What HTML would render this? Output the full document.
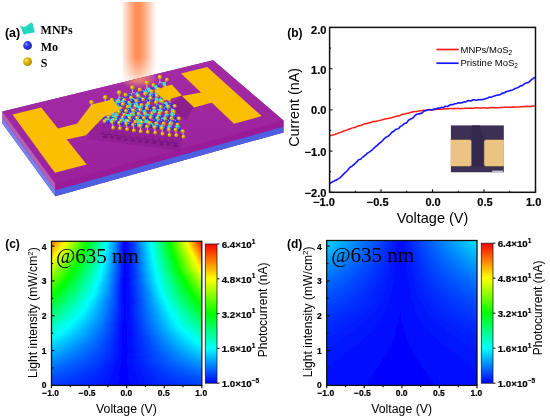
<!DOCTYPE html>
<html><head><meta charset="utf-8"><title>Figure</title>
<style>html,body{margin:0;padding:0;background:#fff;} body{width:550px;height:419px;overflow:hidden;} svg{display:block;}</style>
</head><body>
<svg width="550" height="419" viewBox="0 0 550 419" font-family="'Liberation Sans', Arial, sans-serif" fill="#000">
<defs><filter id="vblur" x="-2%" y="-5%" width="104%" height="110%"><feGaussianBlur stdDeviation="0.3 1.3"/></filter><radialGradient id="mo" cx=".35" cy=".35" r=".7"><stop offset="0" stop-color="#a0a8ff"/><stop offset=".3" stop-color="#3a40f0"/><stop offset="1" stop-color="#1e22b8"/></radialGradient><radialGradient id="su" cx=".35" cy=".35" r=".7"><stop offset="0" stop-color="#fff4a8"/><stop offset=".3" stop-color="#e8bc08"/><stop offset="1" stop-color="#b08800"/></radialGradient><linearGradient id="topf" x1="0" y1="0" x2="0.3" y2="1"><stop offset="0" stop-color="#a52fa7"/><stop offset="1" stop-color="#9a219b"/></linearGradient><linearGradient id="beamh" x1="0" x2="1"><stop offset="0" stop-color="#ffa880" stop-opacity="0"/><stop offset=".07" stop-color="#ffa47c" stop-opacity=".3"/><stop offset=".22" stop-color="#ff9460" stop-opacity=".62"/><stop offset=".38" stop-color="#ff8448" stop-opacity=".88"/><stop offset=".5" stop-color="#ff8244" stop-opacity=".92"/><stop offset=".66" stop-color="#ff8c56" stop-opacity=".74"/><stop offset=".82" stop-color="#ff9c70" stop-opacity=".45"/><stop offset=".93" stop-color="#ffb090" stop-opacity=".2"/><stop offset="1" stop-color="#ffb898" stop-opacity="0"/></linearGradient><linearGradient id="beamv" x1="0" y1="0" x2="0" y2="1"><stop offset="0" stop-color="#fff" stop-opacity="1"/><stop offset=".66" stop-color="#fff" stop-opacity="1"/><stop offset=".85" stop-color="#fff" stop-opacity=".55"/><stop offset="1" stop-color="#fff" stop-opacity="0"/></linearGradient><mask id="beamm"><rect x="118" y="2" width="44" height="84" fill="url(#beamv)"/></mask><radialGradient id="glow" cx=".5" cy=".5" r=".5"><stop offset="0" stop-color="#ff9a60" stop-opacity=".75"/><stop offset=".6" stop-color="#ff9a70" stop-opacity=".3"/><stop offset="1" stop-color="#ffa080" stop-opacity="0"/></radialGradient><clipPath id="slabtop"><polygon points="2.4,111.6 213.1,60.2 283.5,120.6 55.3,183.5"/></clipPath><clipPath id="insetc"><rect x="450.7" y="125.2" width="53.2" height="47.3"/></clipPath><clipPath id="clip1"><rect x="51.5" y="241.3" width="150.3" height="144.1"/></clipPath><linearGradient id="g2"><stop offset="0" stop-color="#ff5200"/><stop offset="0.1" stop-color="#fffc00"/><stop offset="0.13" stop-color="#ceff00"/><stop offset="0.24" stop-color="#00ff03"/><stop offset="0.31" stop-color="#00ff80"/><stop offset="0.37" stop-color="#00fffc"/><stop offset="0.38" stop-color="#00f8ff"/><stop offset="0.41" stop-color="#00aaff"/><stop offset="0.48" stop-color="#000eff"/><stop offset="0.48" stop-color="#0000ff"/><stop offset="0.51" stop-color="#000cff"/><stop offset="0.54" stop-color="#003aff"/><stop offset="0.59" stop-color="#008dff"/><stop offset="0.65" stop-color="#00fcff"/><stop offset="0.7" stop-color="#00ff9e"/><stop offset="0.78" stop-color="#00ff00"/><stop offset="0.89" stop-color="#f7ff00"/><stop offset="0.89" stop-color="#fffb00"/><stop offset="0.99" stop-color="#ff0100"/><stop offset="1" stop-color="#ff0000"/></linearGradient><linearGradient id="g3"><stop offset="0" stop-color="#ff6200"/><stop offset="0.1" stop-color="#fdff00"/><stop offset="0.24" stop-color="#00ff02"/><stop offset="0.3" stop-color="#00ff7d"/><stop offset="0.37" stop-color="#00feff"/><stop offset="0.42" stop-color="#0091ff"/><stop offset="0.47" stop-color="#0018ff"/><stop offset="0.48" stop-color="#0005ff"/><stop offset="0.48" stop-color="#0000ff"/><stop offset="0.51" stop-color="#000cff"/><stop offset="0.54" stop-color="#0039ff"/><stop offset="0.59" stop-color="#008bff"/><stop offset="0.65" stop-color="#00f9ff"/><stop offset="0.66" stop-color="#00fffc"/><stop offset="0.68" stop-color="#00ffd5"/><stop offset="0.78" stop-color="#03ff00"/><stop offset="0.9" stop-color="#fffc00"/><stop offset="1" stop-color="#ff0600"/></linearGradient><linearGradient id="g4"><stop offset="0" stop-color="#ff7200"/><stop offset="0.09" stop-color="#fffd00"/><stop offset="0.24" stop-color="#00ff02"/><stop offset="0.3" stop-color="#00ff84"/><stop offset="0.36" stop-color="#00fffa"/><stop offset="0.37" stop-color="#00faff"/><stop offset="0.41" stop-color="#00afff"/><stop offset="0.48" stop-color="#000dff"/><stop offset="0.48" stop-color="#0000ff"/><stop offset="0.49" stop-color="#0003ff"/><stop offset="0.51" stop-color="#0011ff"/><stop offset="0.55" stop-color="#0040ff"/><stop offset="0.59" stop-color="#0091ff"/><stop offset="0.66" stop-color="#00feff"/><stop offset="0.71" stop-color="#00ff95"/><stop offset="0.78" stop-color="#00ff05"/><stop offset="0.79" stop-color="#05ff00"/><stop offset="0.8" stop-color="#1bff00"/><stop offset="0.9" stop-color="#fffd00"/><stop offset="1" stop-color="#ff1600"/></linearGradient><linearGradient id="g5"><stop offset="0" stop-color="#ff8200"/><stop offset="0.07" stop-color="#fffa00"/><stop offset="0.08" stop-color="#fbff00"/><stop offset="0.23" stop-color="#00ff02"/><stop offset="0.3" stop-color="#00ff81"/><stop offset="0.36" stop-color="#00fffe"/><stop offset="0.42" stop-color="#0097ff"/><stop offset="0.47" stop-color="#0018ff"/><stop offset="0.48" stop-color="#0004ff"/><stop offset="0.48" stop-color="#0000ff"/><stop offset="0.49" stop-color="#0003ff"/><stop offset="0.51" stop-color="#0011ff"/><stop offset="0.55" stop-color="#003fff"/><stop offset="0.59" stop-color="#008fff"/><stop offset="0.66" stop-color="#00faff"/><stop offset="0.66" stop-color="#00fffa"/><stop offset="0.7" stop-color="#00ffb8"/><stop offset="0.79" stop-color="#00ff03"/><stop offset="0.82" stop-color="#47ff00"/><stop offset="0.91" stop-color="#fffe00"/><stop offset="1" stop-color="#ff2700"/></linearGradient><linearGradient id="g6"><stop offset="0" stop-color="#ff9200"/><stop offset="0.07" stop-color="#feff00"/><stop offset="0.23" stop-color="#00ff02"/><stop offset="0.29" stop-color="#00ff7e"/><stop offset="0.36" stop-color="#00fff9"/><stop offset="0.36" stop-color="#00fbff"/><stop offset="0.42" stop-color="#0089ff"/><stop offset="0.47" stop-color="#0017ff"/><stop offset="0.48" stop-color="#0004ff"/><stop offset="0.48" stop-color="#0000ff"/><stop offset="0.49" stop-color="#0003ff"/><stop offset="0.51" stop-color="#0010ff"/><stop offset="0.55" stop-color="#003eff"/><stop offset="0.59" stop-color="#008dff"/><stop offset="0.66" stop-color="#00f6ff"/><stop offset="0.66" stop-color="#00ffff"/><stop offset="0.69" stop-color="#00ffd0"/><stop offset="0.79" stop-color="#00ff01"/><stop offset="0.91" stop-color="#feff00"/><stop offset="1" stop-color="#ff3700"/></linearGradient><linearGradient id="g7"><stop offset="0" stop-color="#ffa200"/><stop offset="0.06" stop-color="#fffe00"/><stop offset="0.22" stop-color="#00ff03"/><stop offset="0.29" stop-color="#00ff85"/><stop offset="0.36" stop-color="#00fffe"/><stop offset="0.42" stop-color="#0091ff"/><stop offset="0.47" stop-color="#0017ff"/><stop offset="0.48" stop-color="#0004ff"/><stop offset="0.48" stop-color="#0000ff"/><stop offset="0.49" stop-color="#0003ff"/><stop offset="0.51" stop-color="#0010ff"/><stop offset="0.55" stop-color="#003dff"/><stop offset="0.6" stop-color="#0093ff"/><stop offset="0.66" stop-color="#00fbff"/><stop offset="0.67" stop-color="#00fffa"/><stop offset="0.7" stop-color="#00ffaf"/><stop offset="0.8" stop-color="#01ff00"/><stop offset="0.92" stop-color="#fcff00"/><stop offset="0.92" stop-color="#fff700"/><stop offset="1" stop-color="#ff4700"/></linearGradient><linearGradient id="g8"><stop offset="0" stop-color="#ffb200"/><stop offset="0.05" stop-color="#fffd00"/><stop offset="0.06" stop-color="#f9ff00"/><stop offset="0.21" stop-color="#04ff00"/><stop offset="0.21" stop-color="#00ff04"/><stop offset="0.29" stop-color="#00ff83"/><stop offset="0.35" stop-color="#00fff9"/><stop offset="0.36" stop-color="#00fcff"/><stop offset="0.42" stop-color="#008fff"/><stop offset="0.47" stop-color="#0016ff"/><stop offset="0.48" stop-color="#0004ff"/><stop offset="0.48" stop-color="#0000ff"/><stop offset="0.49" stop-color="#0003ff"/><stop offset="0.51" stop-color="#0010ff"/><stop offset="0.55" stop-color="#003cff"/><stop offset="0.6" stop-color="#0091ff"/><stop offset="0.66" stop-color="#00f7ff"/><stop offset="0.67" stop-color="#00fffe"/><stop offset="0.69" stop-color="#00ffda"/><stop offset="0.8" stop-color="#02ff00"/><stop offset="0.92" stop-color="#faff00"/><stop offset="0.93" stop-color="#fffa00"/><stop offset="1" stop-color="#ff5700"/></linearGradient><linearGradient id="g9"><stop offset="0" stop-color="#ffc100"/><stop offset="0.04" stop-color="#fffc00"/><stop offset="0.04" stop-color="#faff00"/><stop offset="0.21" stop-color="#03ff00"/><stop offset="0.21" stop-color="#00ff05"/><stop offset="0.29" stop-color="#00ff8a"/><stop offset="0.35" stop-color="#00fffe"/><stop offset="0.41" stop-color="#0096ff"/><stop offset="0.48" stop-color="#000cff"/><stop offset="0.48" stop-color="#0000ff"/><stop offset="0.51" stop-color="#0010ff"/><stop offset="0.55" stop-color="#003bff"/><stop offset="0.6" stop-color="#008eff"/><stop offset="0.67" stop-color="#00fcff"/><stop offset="0.7" stop-color="#00ffba"/><stop offset="0.8" stop-color="#00ff07"/><stop offset="0.81" stop-color="#03ff00"/><stop offset="0.93" stop-color="#fffd00"/><stop offset="1" stop-color="#ff6800"/></linearGradient><linearGradient id="g10"><stop offset="0" stop-color="#ffd100"/><stop offset="0.03" stop-color="#fffc00"/><stop offset="0.04" stop-color="#faff00"/><stop offset="0.2" stop-color="#01ff00"/><stop offset="0.21" stop-color="#00ff07"/><stop offset="0.29" stop-color="#00ff89"/><stop offset="0.35" stop-color="#00fff9"/><stop offset="0.35" stop-color="#00fcff"/><stop offset="0.42" stop-color="#008aff"/><stop offset="0.47" stop-color="#0016ff"/><stop offset="0.48" stop-color="#0004ff"/><stop offset="0.48" stop-color="#0000ff"/><stop offset="0.51" stop-color="#000fff"/><stop offset="0.55" stop-color="#003aff"/><stop offset="0.6" stop-color="#008cff"/><stop offset="0.67" stop-color="#00f8ff"/><stop offset="0.67" stop-color="#00fffe"/><stop offset="0.69" stop-color="#00ffe3"/><stop offset="0.81" stop-color="#00ff06"/><stop offset="0.81" stop-color="#04ff00"/><stop offset="0.94" stop-color="#feff00"/><stop offset="1" stop-color="#ff7800"/></linearGradient><linearGradient id="g11"><stop offset="0" stop-color="#ffe000"/><stop offset="0.02" stop-color="#fffd00"/><stop offset="0.03" stop-color="#faff00"/><stop offset="0.2" stop-color="#00ff01"/><stop offset="0.28" stop-color="#00ff88"/><stop offset="0.35" stop-color="#00fffe"/><stop offset="0.41" stop-color="#0091ff"/><stop offset="0.48" stop-color="#000cff"/><stop offset="0.48" stop-color="#0000ff"/><stop offset="0.51" stop-color="#000fff"/><stop offset="0.55" stop-color="#0040ff"/><stop offset="0.6" stop-color="#0092ff"/><stop offset="0.67" stop-color="#00fcff"/><stop offset="0.72" stop-color="#00ffa2"/><stop offset="0.81" stop-color="#00ff05"/><stop offset="0.82" stop-color="#05ff00"/><stop offset="0.94" stop-color="#fbff00"/><stop offset="0.95" stop-color="#fff900"/><stop offset="1" stop-color="#ff8800"/></linearGradient><linearGradient id="g12"><stop offset="0" stop-color="#fff000"/><stop offset="0.01" stop-color="#fffe00"/><stop offset="0.01" stop-color="#f9ff00"/><stop offset="0.19" stop-color="#00ff03"/><stop offset="0.28" stop-color="#00ff87"/><stop offset="0.35" stop-color="#00fffa"/><stop offset="0.35" stop-color="#00fbff"/><stop offset="0.41" stop-color="#008eff"/><stop offset="0.47" stop-color="#0015ff"/><stop offset="0.48" stop-color="#0000ff"/><stop offset="0.51" stop-color="#000fff"/><stop offset="0.55" stop-color="#003fff"/><stop offset="0.6" stop-color="#008fff"/><stop offset="0.67" stop-color="#00f8ff"/><stop offset="0.68" stop-color="#00fffe"/><stop offset="0.69" stop-color="#00ffed"/><stop offset="0.82" stop-color="#00ff04"/><stop offset="0.82" stop-color="#05ff00"/><stop offset="0.95" stop-color="#fffd00"/><stop offset="1" stop-color="#ff9800"/></linearGradient><linearGradient id="g13"><stop offset="0" stop-color="#ffff00"/><stop offset="0.18" stop-color="#02ff00"/><stop offset="0.26" stop-color="#00ff6f"/><stop offset="0.35" stop-color="#00ffff"/><stop offset="0.41" stop-color="#008bff"/><stop offset="0.48" stop-color="#000bff"/><stop offset="0.48" stop-color="#0000ff"/><stop offset="0.51" stop-color="#000fff"/><stop offset="0.55" stop-color="#0038ff"/><stop offset="0.6" stop-color="#008dff"/><stop offset="0.68" stop-color="#00fcff"/><stop offset="0.68" stop-color="#00fffa"/><stop offset="0.75" stop-color="#00ff82"/><stop offset="0.82" stop-color="#00ff04"/><stop offset="0.83" stop-color="#05ff00"/><stop offset="0.96" stop-color="#fdff00"/><stop offset="1" stop-color="#ffa800"/></linearGradient><linearGradient id="g14"><stop offset="0" stop-color="#f0ff00"/><stop offset="0.18" stop-color="#00ff01"/><stop offset="0.27" stop-color="#00ff86"/><stop offset="0.34" stop-color="#00fffc"/><stop offset="0.35" stop-color="#00faff"/><stop offset="0.41" stop-color="#0089ff"/><stop offset="0.48" stop-color="#000bff"/><stop offset="0.48" stop-color="#0000ff"/><stop offset="0.51" stop-color="#000fff"/><stop offset="0.55" stop-color="#003dff"/><stop offset="0.61" stop-color="#0092ff"/><stop offset="0.68" stop-color="#00ffff"/><stop offset="0.75" stop-color="#00ff89"/><stop offset="0.83" stop-color="#00ff05"/><stop offset="0.83" stop-color="#05ff00"/><stop offset="0.96" stop-color="#f8ff00"/><stop offset="0.96" stop-color="#fffc00"/><stop offset="1" stop-color="#ffb800"/></linearGradient><linearGradient id="g15"><stop offset="0" stop-color="#e1ff00"/><stop offset="0.17" stop-color="#03ff00"/><stop offset="0.24" stop-color="#00ff61"/><stop offset="0.34" stop-color="#00fdff"/><stop offset="0.41" stop-color="#008fff"/><stop offset="0.48" stop-color="#000bff"/><stop offset="0.48" stop-color="#0000ff"/><stop offset="0.51" stop-color="#000eff"/><stop offset="0.55" stop-color="#003cff"/><stop offset="0.61" stop-color="#008fff"/><stop offset="0.68" stop-color="#00fbff"/><stop offset="0.69" stop-color="#00fffb"/><stop offset="0.76" stop-color="#00ff88"/><stop offset="0.83" stop-color="#00ff05"/><stop offset="0.83" stop-color="#04ff00"/><stop offset="0.97" stop-color="#fdff00"/><stop offset="1" stop-color="#ffc700"/></linearGradient><linearGradient id="g16"><stop offset="0" stop-color="#d2ff00"/><stop offset="0.16" stop-color="#00ff01"/><stop offset="0.26" stop-color="#00ff86"/><stop offset="0.34" stop-color="#00ffff"/><stop offset="0.34" stop-color="#00f8ff"/><stop offset="0.41" stop-color="#008cff"/><stop offset="0.48" stop-color="#000bff"/><stop offset="0.48" stop-color="#0000ff"/><stop offset="0.51" stop-color="#000eff"/><stop offset="0.56" stop-color="#0042ff"/><stop offset="0.61" stop-color="#0094ff"/><stop offset="0.69" stop-color="#00feff"/><stop offset="0.76" stop-color="#00ff8e"/><stop offset="0.83" stop-color="#00ff06"/><stop offset="0.84" stop-color="#03ff00"/><stop offset="0.85" stop-color="#1dff00"/><stop offset="0.97" stop-color="#f8ff00"/><stop offset="0.98" stop-color="#fffd00"/><stop offset="1" stop-color="#ffd700"/></linearGradient><linearGradient id="g17"><stop offset="0" stop-color="#c3ff00"/><stop offset="0.15" stop-color="#02ff00"/><stop offset="0.24" stop-color="#00ff72"/><stop offset="0.33" stop-color="#00fffc"/><stop offset="0.34" stop-color="#00faff"/><stop offset="0.41" stop-color="#0089ff"/><stop offset="0.48" stop-color="#000aff"/><stop offset="0.48" stop-color="#0000ff"/><stop offset="0.51" stop-color="#000eff"/><stop offset="0.55" stop-color="#003aff"/><stop offset="0.6" stop-color="#0083ff"/><stop offset="0.69" stop-color="#00fffd"/><stop offset="0.84" stop-color="#02ff00"/><stop offset="0.98" stop-color="#fcff00"/><stop offset="1" stop-color="#ffe700"/></linearGradient><linearGradient id="g18"><stop offset="0" stop-color="#b4ff00"/><stop offset="0.14" stop-color="#00ff02"/><stop offset="0.23" stop-color="#00ff73"/><stop offset="0.33" stop-color="#00fdff"/><stop offset="0.41" stop-color="#0087ff"/><stop offset="0.48" stop-color="#000aff"/><stop offset="0.48" stop-color="#0000ff"/><stop offset="0.51" stop-color="#000eff"/><stop offset="0.56" stop-color="#003fff"/><stop offset="0.61" stop-color="#008fff"/><stop offset="0.69" stop-color="#00fcff"/><stop offset="0.75" stop-color="#00ffa4"/><stop offset="0.85" stop-color="#00ff00"/><stop offset="0.99" stop-color="#ffff00"/><stop offset="1" stop-color="#fff600"/></linearGradient><linearGradient id="g19"><stop offset="0" stop-color="#a5ff00"/><stop offset="0.14" stop-color="#00ff00"/><stop offset="0.24" stop-color="#00ff82"/><stop offset="0.33" stop-color="#00ffff"/><stop offset="0.4" stop-color="#008cff"/><stop offset="0.48" stop-color="#000aff"/><stop offset="0.48" stop-color="#0000ff"/><stop offset="0.51" stop-color="#000eff"/><stop offset="0.56" stop-color="#003eff"/><stop offset="0.62" stop-color="#0093ff"/><stop offset="0.7" stop-color="#00ffff"/><stop offset="0.77" stop-color="#00ff8b"/><stop offset="0.85" stop-color="#00ff01"/><stop offset="1" stop-color="#f8ff00"/></linearGradient><linearGradient id="g20"><stop offset="0" stop-color="#96ff00"/><stop offset="0.12" stop-color="#01ff00"/><stop offset="0.23" stop-color="#00ff7d"/><stop offset="0.32" stop-color="#00fffe"/><stop offset="0.33" stop-color="#00f9ff"/><stop offset="0.4" stop-color="#0089ff"/><stop offset="0.48" stop-color="#000aff"/><stop offset="0.48" stop-color="#0000ff"/><stop offset="0.51" stop-color="#000dff"/><stop offset="0.56" stop-color="#003dff"/><stop offset="0.61" stop-color="#0083ff"/><stop offset="0.7" stop-color="#00fffc"/><stop offset="0.78" stop-color="#00ff8b"/><stop offset="0.86" stop-color="#00ff03"/><stop offset="0.86" stop-color="#05ff00"/><stop offset="0.9" stop-color="#36ff00"/><stop offset="1" stop-color="#e9ff00"/></linearGradient><linearGradient id="g21"><stop offset="0" stop-color="#88ff00"/><stop offset="0.12" stop-color="#02ff00"/><stop offset="0.21" stop-color="#00ff79"/><stop offset="0.32" stop-color="#00fffc"/><stop offset="0.32" stop-color="#00fbff"/><stop offset="0.4" stop-color="#0086ff"/><stop offset="0.48" stop-color="#000aff"/><stop offset="0.48" stop-color="#0000ff"/><stop offset="0.51" stop-color="#000dff"/><stop offset="0.56" stop-color="#003cff"/><stop offset="0.62" stop-color="#008eff"/><stop offset="0.7" stop-color="#00fcff"/><stop offset="0.77" stop-color="#00ffa2"/><stop offset="0.86" stop-color="#00ff06"/><stop offset="0.88" stop-color="#0aff00"/><stop offset="1" stop-color="#d9ff00"/></linearGradient><linearGradient id="g22"><stop offset="0" stop-color="#79ff00"/><stop offset="0.1" stop-color="#02ff00"/><stop offset="0.11" stop-color="#00ff04"/><stop offset="0.32" stop-color="#00fcff"/><stop offset="0.39" stop-color="#009aff"/><stop offset="0.47" stop-color="#0011ff"/><stop offset="0.48" stop-color="#0000ff"/><stop offset="0.5" stop-color="#0006ff"/><stop offset="0.52" stop-color="#0011ff"/><stop offset="0.56" stop-color="#0041ff"/><stop offset="0.62" stop-color="#0091ff"/><stop offset="0.7" stop-color="#00ffff"/><stop offset="0.79" stop-color="#00ff8b"/><stop offset="0.88" stop-color="#00ff00"/><stop offset="1" stop-color="#caff00"/></linearGradient><linearGradient id="g23"><stop offset="0" stop-color="#6bff00"/><stop offset="0.1" stop-color="#02ff00"/><stop offset="0.1" stop-color="#00ff04"/><stop offset="0.2" stop-color="#00ff78"/><stop offset="0.31" stop-color="#00fdff"/><stop offset="0.39" stop-color="#0096ff"/><stop offset="0.47" stop-color="#0011ff"/><stop offset="0.48" stop-color="#0000ff"/><stop offset="0.52" stop-color="#0011ff"/><stop offset="0.56" stop-color="#0040ff"/><stop offset="0.62" stop-color="#008fff"/><stop offset="0.71" stop-color="#00fffe"/><stop offset="0.79" stop-color="#00ff8b"/><stop offset="0.88" stop-color="#00ff04"/><stop offset="0.9" stop-color="#14ff00"/><stop offset="1" stop-color="#bbff00"/></linearGradient><linearGradient id="g24"><stop offset="0" stop-color="#5cff00"/><stop offset="0.09" stop-color="#01ff00"/><stop offset="0.19" stop-color="#00ff76"/><stop offset="0.3" stop-color="#00fdff"/><stop offset="0.39" stop-color="#0093ff"/><stop offset="0.47" stop-color="#0010ff"/><stop offset="0.48" stop-color="#0000ff"/><stop offset="0.51" stop-color="#000dff"/><stop offset="0.56" stop-color="#003fff"/><stop offset="0.62" stop-color="#0086ff"/><stop offset="0.71" stop-color="#00fffc"/><stop offset="0.89" stop-color="#01ff00"/><stop offset="1" stop-color="#abff00"/></linearGradient><linearGradient id="g25"><stop offset="0" stop-color="#4eff00"/><stop offset="0.07" stop-color="#00ff01"/><stop offset="0.19" stop-color="#00ff7f"/><stop offset="0.3" stop-color="#00feff"/><stop offset="0.38" stop-color="#0096ff"/><stop offset="0.47" stop-color="#0010ff"/><stop offset="0.48" stop-color="#0000ff"/><stop offset="0.51" stop-color="#000cff"/><stop offset="0.56" stop-color="#003dff"/><stop offset="0.63" stop-color="#008fff"/><stop offset="0.71" stop-color="#00fcff"/><stop offset="0.72" stop-color="#00fffb"/><stop offset="0.81" stop-color="#00ff86"/><stop offset="0.9" stop-color="#00ff03"/><stop offset="0.91" stop-color="#0cff00"/><stop offset="1" stop-color="#9cff00"/></linearGradient><linearGradient id="g26"><stop offset="0" stop-color="#40ff00"/><stop offset="0.07" stop-color="#00ff02"/><stop offset="0.18" stop-color="#00ff7d"/><stop offset="0.29" stop-color="#00feff"/><stop offset="0.38" stop-color="#0093ff"/><stop offset="0.47" stop-color="#0010ff"/><stop offset="0.48" stop-color="#0000ff"/><stop offset="0.52" stop-color="#0010ff"/><stop offset="0.57" stop-color="#0042ff"/><stop offset="0.64" stop-color="#0092ff"/><stop offset="0.72" stop-color="#00feff"/><stop offset="0.8" stop-color="#00ff95"/><stop offset="0.91" stop-color="#00ff00"/><stop offset="1" stop-color="#8dff00"/></linearGradient><linearGradient id="g27"><stop offset="0" stop-color="#32ff00"/><stop offset="0.05" stop-color="#00ff00"/><stop offset="0.17" stop-color="#00ff76"/><stop offset="0.29" stop-color="#00feff"/><stop offset="0.38" stop-color="#008fff"/><stop offset="0.47" stop-color="#000fff"/><stop offset="0.48" stop-color="#0000ff"/><stop offset="0.52" stop-color="#0010ff"/><stop offset="0.57" stop-color="#0040ff"/><stop offset="0.64" stop-color="#0095ff"/><stop offset="0.72" stop-color="#00feff"/><stop offset="0.81" stop-color="#00ff8f"/><stop offset="0.91" stop-color="#00ff04"/><stop offset="0.92" stop-color="#03ff00"/><stop offset="1" stop-color="#7eff00"/></linearGradient><linearGradient id="g28"><stop offset="0" stop-color="#24ff00"/><stop offset="0.04" stop-color="#00ff02"/><stop offset="0.16" stop-color="#00ff7b"/><stop offset="0.29" stop-color="#00fdff"/><stop offset="0.38" stop-color="#0092ff"/><stop offset="0.42" stop-color="#0057ff"/><stop offset="0.47" stop-color="#000fff"/><stop offset="0.48" stop-color="#0000ff"/><stop offset="0.52" stop-color="#0010ff"/><stop offset="0.57" stop-color="#003fff"/><stop offset="0.64" stop-color="#0092ff"/><stop offset="0.73" stop-color="#00ffff"/><stop offset="0.82" stop-color="#00ff8a"/><stop offset="0.92" stop-color="#00ff02"/><stop offset="1" stop-color="#70ff00"/></linearGradient><linearGradient id="g29"><stop offset="0" stop-color="#16ff00"/><stop offset="0.03" stop-color="#00ff01"/><stop offset="0.14" stop-color="#00ff75"/><stop offset="0.28" stop-color="#00fcff"/><stop offset="0.38" stop-color="#008fff"/><stop offset="0.47" stop-color="#000eff"/><stop offset="0.48" stop-color="#0000ff"/><stop offset="0.52" stop-color="#000fff"/><stop offset="0.57" stop-color="#0043ff"/><stop offset="0.65" stop-color="#0095ff"/><stop offset="0.73" stop-color="#00fffe"/><stop offset="0.83" stop-color="#00ff86"/><stop offset="0.93" stop-color="#00ff00"/><stop offset="1" stop-color="#61ff00"/></linearGradient><linearGradient id="g30"><stop offset="0" stop-color="#09ff00"/><stop offset="0.01" stop-color="#00ff00"/><stop offset="0.05" stop-color="#00ff25"/><stop offset="0.17" stop-color="#00ff98"/><stop offset="0.27" stop-color="#00fffd"/><stop offset="0.28" stop-color="#00fbff"/><stop offset="0.38" stop-color="#008bff"/><stop offset="0.47" stop-color="#000eff"/><stop offset="0.48" stop-color="#0000ff"/><stop offset="0.52" stop-color="#000fff"/><stop offset="0.57" stop-color="#0042ff"/><stop offset="0.65" stop-color="#0091ff"/><stop offset="0.74" stop-color="#00fffe"/><stop offset="0.94" stop-color="#01ff00"/><stop offset="1" stop-color="#52ff00"/></linearGradient><linearGradient id="g31"><stop offset="0" stop-color="#00ff05"/><stop offset="0.14" stop-color="#00ff89"/><stop offset="0.27" stop-color="#00ffff"/><stop offset="0.37" stop-color="#008dff"/><stop offset="0.42" stop-color="#0051ff"/><stop offset="0.47" stop-color="#000eff"/><stop offset="0.48" stop-color="#0000ff"/><stop offset="0.52" stop-color="#000fff"/><stop offset="0.57" stop-color="#0040ff"/><stop offset="0.65" stop-color="#0094ff"/><stop offset="0.74" stop-color="#00fffe"/><stop offset="0.84" stop-color="#00ff8b"/><stop offset="0.95" stop-color="#00ff05"/><stop offset="0.95" stop-color="#01ff00"/><stop offset="1" stop-color="#43ff00"/></linearGradient><linearGradient id="g32"><stop offset="0" stop-color="#00ff12"/><stop offset="0.13" stop-color="#00ff85"/><stop offset="0.26" stop-color="#00fdff"/><stop offset="0.37" stop-color="#008aff"/><stop offset="0.42" stop-color="#004fff"/><stop offset="0.47" stop-color="#000dff"/><stop offset="0.48" stop-color="#0000ff"/><stop offset="0.52" stop-color="#000fff"/><stop offset="0.58" stop-color="#0044ff"/><stop offset="0.66" stop-color="#0095ff"/><stop offset="0.75" stop-color="#00ffff"/><stop offset="0.85" stop-color="#00ff88"/><stop offset="0.96" stop-color="#00ff05"/><stop offset="0.96" stop-color="#01ff00"/><stop offset="1" stop-color="#35ff00"/></linearGradient><linearGradient id="g33"><stop offset="0" stop-color="#00ff20"/><stop offset="0.14" stop-color="#00ff94"/><stop offset="0.25" stop-color="#00fffe"/><stop offset="0.36" stop-color="#008cff"/><stop offset="0.42" stop-color="#0053ff"/><stop offset="0.47" stop-color="#000dff"/><stop offset="0.48" stop-color="#0000ff"/><stop offset="0.52" stop-color="#000eff"/><stop offset="0.58" stop-color="#0042ff"/><stop offset="0.66" stop-color="#0097ff"/><stop offset="0.76" stop-color="#00ffff"/><stop offset="0.85" stop-color="#00ff8b"/><stop offset="0.96" stop-color="#00ff05"/><stop offset="0.97" stop-color="#01ff00"/><stop offset="1" stop-color="#27ff00"/></linearGradient><linearGradient id="g34"><stop offset="0" stop-color="#00ff2d"/><stop offset="0.24" stop-color="#00feff"/><stop offset="0.36" stop-color="#0088ff"/><stop offset="0.42" stop-color="#0050ff"/><stop offset="0.47" stop-color="#000dff"/><stop offset="0.48" stop-color="#0000ff"/><stop offset="0.52" stop-color="#000eff"/><stop offset="0.58" stop-color="#0041ff"/><stop offset="0.66" stop-color="#0094ff"/><stop offset="0.76" stop-color="#00feff"/><stop offset="0.85" stop-color="#00ff95"/><stop offset="0.98" stop-color="#00ff00"/><stop offset="1" stop-color="#18ff00"/></linearGradient><linearGradient id="g35"><stop offset="0" stop-color="#00ff3a"/><stop offset="0.24" stop-color="#00fffe"/><stop offset="0.36" stop-color="#0089ff"/><stop offset="0.42" stop-color="#004eff"/><stop offset="0.48" stop-color="#0007ff"/><stop offset="0.48" stop-color="#0000ff"/><stop offset="0.52" stop-color="#0011ff"/><stop offset="0.58" stop-color="#0044ff"/><stop offset="0.67" stop-color="#0095ff"/><stop offset="0.77" stop-color="#00fdff"/><stop offset="0.85" stop-color="#00ff9e"/><stop offset="0.99" stop-color="#00ff02"/><stop offset="1" stop-color="#0aff00"/></linearGradient><linearGradient id="g36"><stop offset="0" stop-color="#00ff47"/><stop offset="0.23" stop-color="#00fdff"/><stop offset="0.36" stop-color="#0085ff"/><stop offset="0.42" stop-color="#004cff"/><stop offset="0.48" stop-color="#0007ff"/><stop offset="0.48" stop-color="#0000ff"/><stop offset="0.52" stop-color="#000eff"/><stop offset="0.58" stop-color="#0042ff"/><stop offset="0.66" stop-color="#008dff"/><stop offset="0.78" stop-color="#00fffd"/><stop offset="0.89" stop-color="#00ff87"/><stop offset="1" stop-color="#00ff04"/></linearGradient><linearGradient id="g37"><stop offset="0" stop-color="#00ff54"/><stop offset="0.22" stop-color="#00feff"/><stop offset="0.35" stop-color="#0087ff"/><stop offset="0.42" stop-color="#004aff"/><stop offset="0.48" stop-color="#0007ff"/><stop offset="0.48" stop-color="#0000ff"/><stop offset="0.52" stop-color="#0011ff"/><stop offset="0.58" stop-color="#0045ff"/><stop offset="0.68" stop-color="#0097ff"/><stop offset="0.78" stop-color="#00ffff"/><stop offset="1" stop-color="#00ff12"/></linearGradient><linearGradient id="g38"><stop offset="0" stop-color="#00ff61"/><stop offset="0.21" stop-color="#00ffff"/><stop offset="0.35" stop-color="#0083ff"/><stop offset="0.42" stop-color="#0048ff"/><stop offset="0.48" stop-color="#0006ff"/><stop offset="0.48" stop-color="#0000ff"/><stop offset="0.52" stop-color="#0010ff"/><stop offset="0.58" stop-color="#0043ff"/><stop offset="0.68" stop-color="#0098ff"/><stop offset="0.79" stop-color="#00fdff"/><stop offset="0.87" stop-color="#00ffab"/><stop offset="1" stop-color="#00ff20"/></linearGradient><linearGradient id="g39"><stop offset="0" stop-color="#00ff6e"/><stop offset="0.2" stop-color="#00ffff"/><stop offset="0.35" stop-color="#0083ff"/><stop offset="0.41" stop-color="#004bff"/><stop offset="0.48" stop-color="#0006ff"/><stop offset="0.48" stop-color="#0000ff"/><stop offset="0.52" stop-color="#0010ff"/><stop offset="0.58" stop-color="#0042ff"/><stop offset="0.68" stop-color="#0094ff"/><stop offset="0.8" stop-color="#00fffe"/><stop offset="1" stop-color="#00ff2e"/></linearGradient><linearGradient id="g40"><stop offset="0" stop-color="#00ff7a"/><stop offset="0.19" stop-color="#00feff"/><stop offset="0.35" stop-color="#0084ff"/><stop offset="0.41" stop-color="#0049ff"/><stop offset="0.48" stop-color="#0006ff"/><stop offset="0.48" stop-color="#0000ff"/><stop offset="0.52" stop-color="#0010ff"/><stop offset="0.59" stop-color="#0044ff"/><stop offset="0.69" stop-color="#0099ff"/><stop offset="0.8" stop-color="#00fdff"/><stop offset="0.88" stop-color="#00ffb9"/><stop offset="1" stop-color="#00ff3c"/></linearGradient><linearGradient id="g41"><stop offset="0" stop-color="#00ff87"/><stop offset="0.18" stop-color="#00fdff"/><stop offset="0.35" stop-color="#0080ff"/><stop offset="0.41" stop-color="#0046ff"/><stop offset="0.48" stop-color="#0006ff"/><stop offset="0.48" stop-color="#0000ff"/><stop offset="0.52" stop-color="#0010ff"/><stop offset="0.59" stop-color="#0046ff"/><stop offset="0.7" stop-color="#0099ff"/><stop offset="0.81" stop-color="#00ffff"/><stop offset="1" stop-color="#00ff4a"/></linearGradient><linearGradient id="g42"><stop offset="0" stop-color="#00ff93"/><stop offset="0.17" stop-color="#00ffff"/><stop offset="0.34" stop-color="#0080ff"/><stop offset="0.41" stop-color="#0049ff"/><stop offset="0.48" stop-color="#0006ff"/><stop offset="0.48" stop-color="#0000ff"/><stop offset="0.52" stop-color="#000fff"/><stop offset="0.59" stop-color="#0045ff"/><stop offset="0.82" stop-color="#00fffe"/><stop offset="1" stop-color="#00ff57"/></linearGradient><linearGradient id="g43"><stop offset="0" stop-color="#00ff9f"/><stop offset="0.15" stop-color="#00fdff"/><stop offset="0.34" stop-color="#007fff"/><stop offset="0.48" stop-color="#0000ff"/><stop offset="0.52" stop-color="#000fff"/><stop offset="0.6" stop-color="#0046ff"/><stop offset="0.7" stop-color="#0098ff"/><stop offset="0.83" stop-color="#00fdff"/><stop offset="1" stop-color="#00ff65"/></linearGradient><linearGradient id="g44"><stop offset="0" stop-color="#00ffab"/><stop offset="0.14" stop-color="#00feff"/><stop offset="0.33" stop-color="#007fff"/><stop offset="0.48" stop-color="#0000ff"/><stop offset="0.53" stop-color="#0012ff"/><stop offset="0.6" stop-color="#0048ff"/><stop offset="0.71" stop-color="#009cff"/><stop offset="0.83" stop-color="#00fdff"/><stop offset="1" stop-color="#00ff72"/></linearGradient><linearGradient id="g45"><stop offset="0" stop-color="#00ffb7"/><stop offset="0.12" stop-color="#00ffff"/><stop offset="0.33" stop-color="#007eff"/><stop offset="0.48" stop-color="#0000ff"/><stop offset="0.53" stop-color="#0011ff"/><stop offset="0.6" stop-color="#0046ff"/><stop offset="0.72" stop-color="#009bff"/><stop offset="0.84" stop-color="#00fdff"/><stop offset="1" stop-color="#00ff80"/></linearGradient><linearGradient id="g46"><stop offset="0" stop-color="#00ffc3"/><stop offset="0.11" stop-color="#00feff"/><stop offset="0.32" stop-color="#007dff"/><stop offset="0.39" stop-color="#004bff"/><stop offset="0.48" stop-color="#0000ff"/><stop offset="0.53" stop-color="#0011ff"/><stop offset="0.61" stop-color="#0048ff"/><stop offset="0.72" stop-color="#0099ff"/><stop offset="0.85" stop-color="#00fcff"/><stop offset="1" stop-color="#00ff8d"/></linearGradient><linearGradient id="g47"><stop offset="0" stop-color="#00ffcf"/><stop offset="0.1" stop-color="#00fdff"/><stop offset="0.32" stop-color="#007cff"/><stop offset="0.39" stop-color="#0049ff"/><stop offset="0.48" stop-color="#0000ff"/><stop offset="0.53" stop-color="#0010ff"/><stop offset="0.61" stop-color="#0049ff"/><stop offset="0.87" stop-color="#00ffff"/><stop offset="1" stop-color="#00ff9a"/></linearGradient><linearGradient id="g48"><stop offset="0" stop-color="#00ffda"/><stop offset="0.07" stop-color="#00fffe"/><stop offset="0.1" stop-color="#00eeff"/><stop offset="0.32" stop-color="#0074ff"/><stop offset="0.39" stop-color="#0046ff"/><stop offset="0.48" stop-color="#0000ff"/><stop offset="0.53" stop-color="#0010ff"/><stop offset="0.62" stop-color="#004aff"/><stop offset="0.88" stop-color="#00feff"/><stop offset="1" stop-color="#00ffa7"/></linearGradient><linearGradient id="g49"><stop offset="0" stop-color="#00ffe5"/><stop offset="0.06" stop-color="#00feff"/><stop offset="0.18" stop-color="#00c1ff"/><stop offset="0.35" stop-color="#0061ff"/><stop offset="0.48" stop-color="#0000ff"/><stop offset="0.53" stop-color="#0010ff"/><stop offset="0.62" stop-color="#004bff"/><stop offset="0.9" stop-color="#00ffff"/><stop offset="1" stop-color="#00ffb3"/></linearGradient><linearGradient id="g50"><stop offset="0" stop-color="#00fff1"/><stop offset="0.04" stop-color="#00fdff"/><stop offset="0.23" stop-color="#009dff"/><stop offset="0.36" stop-color="#0054ff"/><stop offset="0.48" stop-color="#0000ff"/><stop offset="0.53" stop-color="#000fff"/><stop offset="0.63" stop-color="#004bff"/><stop offset="0.91" stop-color="#00fcff"/><stop offset="1" stop-color="#00ffc0"/></linearGradient><linearGradient id="g51"><stop offset="0" stop-color="#00fffc"/><stop offset="0.01" stop-color="#00feff"/><stop offset="0.1" stop-color="#00d3ff"/><stop offset="0.28" stop-color="#0080ff"/><stop offset="0.38" stop-color="#0048ff"/><stop offset="0.48" stop-color="#0000ff"/><stop offset="0.53" stop-color="#000fff"/><stop offset="0.64" stop-color="#004cff"/><stop offset="0.92" stop-color="#00fcff"/><stop offset="1" stop-color="#00ffcd"/></linearGradient><linearGradient id="g52"><stop offset="0" stop-color="#00f8ff"/><stop offset="0.15" stop-color="#00b4ff"/><stop offset="0.29" stop-color="#0076ff"/><stop offset="0.38" stop-color="#0042ff"/><stop offset="0.48" stop-color="#0000ff"/><stop offset="0.53" stop-color="#0011ff"/><stop offset="0.65" stop-color="#004fff"/><stop offset="0.94" stop-color="#00ffff"/><stop offset="1" stop-color="#00ffd9"/></linearGradient><linearGradient id="g53"><stop offset="0" stop-color="#00edff"/><stop offset="0.16" stop-color="#00aaff"/><stop offset="0.29" stop-color="#006eff"/><stop offset="0.38" stop-color="#003fff"/><stop offset="0.48" stop-color="#0000ff"/><stop offset="0.53" stop-color="#0011ff"/><stop offset="0.65" stop-color="#004fff"/><stop offset="0.96" stop-color="#00fdff"/><stop offset="1" stop-color="#00ffe5"/></linearGradient><linearGradient id="g54"><stop offset="0" stop-color="#00e2ff"/><stop offset="0.29" stop-color="#006aff"/><stop offset="0.38" stop-color="#003dff"/><stop offset="0.48" stop-color="#0000ff"/><stop offset="0.53" stop-color="#0010ff"/><stop offset="0.66" stop-color="#0051ff"/><stop offset="0.97" stop-color="#00feff"/><stop offset="1" stop-color="#00fff2"/></linearGradient><linearGradient id="g55"><stop offset="0" stop-color="#00d8ff"/><stop offset="0.29" stop-color="#0065ff"/><stop offset="0.38" stop-color="#003aff"/><stop offset="0.48" stop-color="#0000ff"/><stop offset="0.53" stop-color="#0010ff"/><stop offset="0.66" stop-color="#004eff"/><stop offset="1" stop-color="#00fffe"/></linearGradient><linearGradient id="g56"><stop offset="0" stop-color="#00ceff"/><stop offset="0.29" stop-color="#0060ff"/><stop offset="0.38" stop-color="#0038ff"/><stop offset="0.48" stop-color="#0000ff"/><stop offset="0.53" stop-color="#000fff"/><stop offset="0.68" stop-color="#0052ff"/><stop offset="1" stop-color="#00f5ff"/></linearGradient><linearGradient id="g57"><stop offset="0" stop-color="#00c4ff"/><stop offset="0.29" stop-color="#005cff"/><stop offset="0.39" stop-color="#0033ff"/><stop offset="0.48" stop-color="#0000ff"/><stop offset="0.53" stop-color="#000dff"/><stop offset="0.67" stop-color="#004dff"/><stop offset="1" stop-color="#00e9ff"/></linearGradient><linearGradient id="g58"><stop offset="0" stop-color="#00baff"/><stop offset="0.29" stop-color="#0058ff"/><stop offset="0.39" stop-color="#0030ff"/><stop offset="0.48" stop-color="#0000ff"/><stop offset="0.53" stop-color="#000cff"/><stop offset="0.67" stop-color="#004aff"/><stop offset="1" stop-color="#00ddff"/></linearGradient><linearGradient id="g59"><stop offset="0" stop-color="#00b0ff"/><stop offset="0.29" stop-color="#0053ff"/><stop offset="0.39" stop-color="#002eff"/><stop offset="0.48" stop-color="#0000ff"/><stop offset="0.52" stop-color="#000aff"/><stop offset="0.67" stop-color="#0045ff"/><stop offset="1" stop-color="#00d2ff"/></linearGradient><linearGradient id="g60"><stop offset="0" stop-color="#00a7ff"/><stop offset="0.29" stop-color="#004fff"/><stop offset="0.39" stop-color="#002cff"/><stop offset="0.48" stop-color="#0000ff"/><stop offset="0.66" stop-color="#003eff"/><stop offset="1" stop-color="#00c7ff"/></linearGradient><linearGradient id="g61"><stop offset="0" stop-color="#009eff"/><stop offset="0.29" stop-color="#004bff"/><stop offset="0.39" stop-color="#002aff"/><stop offset="0.48" stop-color="#0000ff"/><stop offset="0.54" stop-color="#000fff"/><stop offset="1" stop-color="#00bcff"/></linearGradient><linearGradient id="g62"><stop offset="0" stop-color="#0095ff"/><stop offset="0.29" stop-color="#0047ff"/><stop offset="0.39" stop-color="#0028ff"/><stop offset="0.48" stop-color="#0000ff"/><stop offset="1" stop-color="#00b1ff"/></linearGradient><linearGradient id="g63"><stop offset="0" stop-color="#008cff"/><stop offset="0.29" stop-color="#0043ff"/><stop offset="0.39" stop-color="#0026ff"/><stop offset="0.48" stop-color="#0000ff"/><stop offset="1" stop-color="#00a6ff"/></linearGradient><linearGradient id="g64"><stop offset="0" stop-color="#0083ff"/><stop offset="0.29" stop-color="#003fff"/><stop offset="0.48" stop-color="#0000ff"/><stop offset="1" stop-color="#009cff"/></linearGradient><linearGradient id="g65"><stop offset="0" stop-color="#007bff"/><stop offset="0.29" stop-color="#003cff"/><stop offset="0.48" stop-color="#0000ff"/><stop offset="1" stop-color="#0092ff"/></linearGradient><linearGradient id="g66"><stop offset="0" stop-color="#0073ff"/><stop offset="0.29" stop-color="#0038ff"/><stop offset="0.48" stop-color="#0000ff"/><stop offset="1" stop-color="#0088ff"/></linearGradient><linearGradient id="g67"><stop offset="0" stop-color="#006bff"/><stop offset="0.29" stop-color="#0034ff"/><stop offset="0.48" stop-color="#0000ff"/><stop offset="1" stop-color="#007eff"/></linearGradient><linearGradient id="g68"><stop offset="0" stop-color="#0064ff"/><stop offset="0.29" stop-color="#0031ff"/><stop offset="0.48" stop-color="#0000ff"/><stop offset="0.69" stop-color="#0031ff"/><stop offset="1" stop-color="#0075ff"/></linearGradient><linearGradient id="g69"><stop offset="0" stop-color="#005dff"/><stop offset="0.29" stop-color="#002eff"/><stop offset="0.48" stop-color="#0000ff"/><stop offset="0.69" stop-color="#002eff"/><stop offset="1" stop-color="#006cff"/></linearGradient><linearGradient id="g70"><stop offset="0" stop-color="#0056ff"/><stop offset="0.29" stop-color="#002bff"/><stop offset="0.48" stop-color="#0000ff"/><stop offset="0.69" stop-color="#002cff"/><stop offset="1" stop-color="#0063ff"/></linearGradient><linearGradient id="g71"><stop offset="0" stop-color="#0050ff"/><stop offset="0.29" stop-color="#0028ff"/><stop offset="0.48" stop-color="#0000ff"/><stop offset="0.69" stop-color="#0029ff"/><stop offset="1" stop-color="#005bff"/></linearGradient><linearGradient id="g72"><stop offset="0" stop-color="#004bff"/><stop offset="0.29" stop-color="#0026ff"/><stop offset="0.48" stop-color="#0000ff"/><stop offset="0.69" stop-color="#0027ff"/><stop offset="1" stop-color="#0053ff"/></linearGradient><linearGradient id="g73"><stop offset="0" stop-color="#0046ff"/><stop offset="0.29" stop-color="#0023ff"/><stop offset="0.48" stop-color="#0000ff"/><stop offset="0.69" stop-color="#0025ff"/><stop offset="1" stop-color="#004cff"/></linearGradient><linearGradient id="g74"><stop offset="0" stop-color="#0041ff"/><stop offset="0.29" stop-color="#0022ff"/><stop offset="0.48" stop-color="#0000ff"/><stop offset="0.69" stop-color="#0023ff"/><stop offset="1" stop-color="#0046ff"/></linearGradient><linearGradient id="g75"><stop offset="0" stop-color="#003eff"/><stop offset="0.29" stop-color="#0020ff"/><stop offset="0.48" stop-color="#0000ff"/><stop offset="0.68" stop-color="#0021ff"/><stop offset="1" stop-color="#0041ff"/></linearGradient><linearGradient id="g76"><stop offset="0" stop-color="#003eff"/><stop offset="0.29" stop-color="#0020ff"/><stop offset="0.48" stop-color="#0000ff"/><stop offset="0.68" stop-color="#0021ff"/><stop offset="1" stop-color="#0040ff"/></linearGradient><linearGradient id="g77"><stop offset="0" stop-color="#003eff"/><stop offset="0.29" stop-color="#0020ff"/><stop offset="0.48" stop-color="#0000ff"/><stop offset="0.68" stop-color="#0021ff"/><stop offset="1" stop-color="#0040ff"/></linearGradient><linearGradient id="cb78" x1="0" y1="1" x2="0" y2="0"><stop offset="0" stop-color="#0000ff"/><stop offset=".25" stop-color="#00ffff"/><stop offset=".5" stop-color="#00ff00"/><stop offset=".75" stop-color="#ffff00"/><stop offset="1" stop-color="#ff0000"/></linearGradient><clipPath id="clip79"><rect x="326.7" y="240.5" width="150.3" height="144.9"/></clipPath><linearGradient id="g80"><stop offset="0" stop-color="#00e1ff"/><stop offset="0.14" stop-color="#00aaff"/><stop offset="0.25" stop-color="#0079ff"/><stop offset="0.34" stop-color="#0050ff"/><stop offset="0.46" stop-color="#0016ff"/><stop offset="0.48" stop-color="#0010ff"/><stop offset="0.49" stop-color="#000dff"/><stop offset="0.51" stop-color="#0010ff"/><stop offset="0.53" stop-color="#0018ff"/><stop offset="0.66" stop-color="#005aff"/><stop offset="0.78" stop-color="#0091ff"/><stop offset="1" stop-color="#00f1ff"/></linearGradient><linearGradient id="g81"><stop offset="0" stop-color="#00daff"/><stop offset="0.14" stop-color="#00a5ff"/><stop offset="0.25" stop-color="#0076ff"/><stop offset="0.34" stop-color="#004eff"/><stop offset="0.46" stop-color="#0015ff"/><stop offset="0.48" stop-color="#0010ff"/><stop offset="0.49" stop-color="#000dff"/><stop offset="0.51" stop-color="#0010ff"/><stop offset="0.53" stop-color="#0018ff"/><stop offset="0.66" stop-color="#0057ff"/><stop offset="0.78" stop-color="#008dff"/><stop offset="1" stop-color="#00eaff"/></linearGradient><linearGradient id="g82"><stop offset="0" stop-color="#00d4ff"/><stop offset="0.14" stop-color="#00a1ff"/><stop offset="0.25" stop-color="#0072ff"/><stop offset="0.34" stop-color="#004cff"/><stop offset="0.46" stop-color="#0015ff"/><stop offset="0.48" stop-color="#000fff"/><stop offset="0.49" stop-color="#000dff"/><stop offset="0.51" stop-color="#0010ff"/><stop offset="0.53" stop-color="#0017ff"/><stop offset="0.66" stop-color="#0055ff"/><stop offset="0.78" stop-color="#0089ff"/><stop offset="1" stop-color="#00e3ff"/></linearGradient><linearGradient id="g83"><stop offset="0" stop-color="#00ceff"/><stop offset="0.14" stop-color="#009cff"/><stop offset="0.25" stop-color="#006fff"/><stop offset="0.34" stop-color="#0049ff"/><stop offset="0.46" stop-color="#0014ff"/><stop offset="0.48" stop-color="#000fff"/><stop offset="0.49" stop-color="#000dff"/><stop offset="0.51" stop-color="#000fff"/><stop offset="0.53" stop-color="#0017ff"/><stop offset="0.66" stop-color="#0052ff"/><stop offset="0.78" stop-color="#0085ff"/><stop offset="1" stop-color="#00dcff"/></linearGradient><linearGradient id="g84"><stop offset="0" stop-color="#00c8ff"/><stop offset="0.14" stop-color="#0097ff"/><stop offset="0.25" stop-color="#006cff"/><stop offset="0.34" stop-color="#0047ff"/><stop offset="0.46" stop-color="#0014ff"/><stop offset="0.48" stop-color="#000fff"/><stop offset="0.49" stop-color="#000cff"/><stop offset="0.51" stop-color="#000fff"/><stop offset="0.53" stop-color="#0016ff"/><stop offset="0.66" stop-color="#0050ff"/><stop offset="0.78" stop-color="#0081ff"/><stop offset="1" stop-color="#00d6ff"/></linearGradient><linearGradient id="g85"><stop offset="0" stop-color="#00c2ff"/><stop offset="0.14" stop-color="#0093ff"/><stop offset="0.25" stop-color="#0069ff"/><stop offset="0.34" stop-color="#0045ff"/><stop offset="0.46" stop-color="#0013ff"/><stop offset="0.48" stop-color="#000fff"/><stop offset="0.49" stop-color="#000cff"/><stop offset="0.51" stop-color="#000fff"/><stop offset="0.53" stop-color="#0016ff"/><stop offset="0.66" stop-color="#004eff"/><stop offset="0.78" stop-color="#007dff"/><stop offset="1" stop-color="#00cfff"/></linearGradient><linearGradient id="g86"><stop offset="0" stop-color="#00bcff"/><stop offset="0.25" stop-color="#0065ff"/><stop offset="0.34" stop-color="#0043ff"/><stop offset="0.46" stop-color="#0013ff"/><stop offset="0.49" stop-color="#000cff"/><stop offset="0.51" stop-color="#000fff"/><stop offset="0.53" stop-color="#0015ff"/><stop offset="0.66" stop-color="#004bff"/><stop offset="0.78" stop-color="#007aff"/><stop offset="1" stop-color="#00c9ff"/></linearGradient><linearGradient id="g87"><stop offset="0" stop-color="#00b6ff"/><stop offset="0.25" stop-color="#0062ff"/><stop offset="0.46" stop-color="#0013ff"/><stop offset="0.49" stop-color="#000cff"/><stop offset="0.51" stop-color="#000eff"/><stop offset="0.53" stop-color="#0015ff"/><stop offset="0.66" stop-color="#0049ff"/><stop offset="0.78" stop-color="#0076ff"/><stop offset="1" stop-color="#00c3ff"/></linearGradient><linearGradient id="g88"><stop offset="0" stop-color="#00b0ff"/><stop offset="0.25" stop-color="#005fff"/><stop offset="0.46" stop-color="#0012ff"/><stop offset="0.49" stop-color="#000cff"/><stop offset="0.51" stop-color="#000eff"/><stop offset="0.53" stop-color="#0014ff"/><stop offset="0.66" stop-color="#0047ff"/><stop offset="0.78" stop-color="#0072ff"/><stop offset="1" stop-color="#00bcff"/></linearGradient><linearGradient id="g89"><stop offset="0" stop-color="#00aaff"/><stop offset="0.25" stop-color="#005cff"/><stop offset="0.46" stop-color="#0012ff"/><stop offset="0.49" stop-color="#000cff"/><stop offset="0.51" stop-color="#000eff"/><stop offset="0.53" stop-color="#0014ff"/><stop offset="0.66" stop-color="#0045ff"/><stop offset="0.78" stop-color="#006fff"/><stop offset="1" stop-color="#00b6ff"/></linearGradient><linearGradient id="g90"><stop offset="0" stop-color="#00a5ff"/><stop offset="0.25" stop-color="#005aff"/><stop offset="0.46" stop-color="#0012ff"/><stop offset="0.49" stop-color="#000bff"/><stop offset="0.51" stop-color="#000dff"/><stop offset="0.53" stop-color="#0013ff"/><stop offset="0.66" stop-color="#0043ff"/><stop offset="0.78" stop-color="#006bff"/><stop offset="1" stop-color="#00b0ff"/></linearGradient><linearGradient id="g91"><stop offset="0" stop-color="#00a0ff"/><stop offset="0.25" stop-color="#0057ff"/><stop offset="0.46" stop-color="#0011ff"/><stop offset="0.49" stop-color="#000bff"/><stop offset="0.51" stop-color="#000dff"/><stop offset="0.53" stop-color="#0013ff"/><stop offset="0.66" stop-color="#0041ff"/><stop offset="0.78" stop-color="#0068ff"/><stop offset="1" stop-color="#00abff"/></linearGradient><linearGradient id="g92"><stop offset="0" stop-color="#009aff"/><stop offset="0.25" stop-color="#0054ff"/><stop offset="0.46" stop-color="#0011ff"/><stop offset="0.49" stop-color="#000bff"/><stop offset="0.51" stop-color="#000dff"/><stop offset="0.53" stop-color="#0013ff"/><stop offset="0.66" stop-color="#003fff"/><stop offset="0.78" stop-color="#0064ff"/><stop offset="1" stop-color="#00a5ff"/></linearGradient><linearGradient id="g93"><stop offset="0" stop-color="#0095ff"/><stop offset="0.25" stop-color="#0051ff"/><stop offset="0.46" stop-color="#0010ff"/><stop offset="0.49" stop-color="#000bff"/><stop offset="0.53" stop-color="#0012ff"/><stop offset="0.66" stop-color="#003dff"/><stop offset="0.78" stop-color="#0061ff"/><stop offset="1" stop-color="#00a0ff"/></linearGradient><linearGradient id="g94"><stop offset="0" stop-color="#0090ff"/><stop offset="0.25" stop-color="#004fff"/><stop offset="0.46" stop-color="#0010ff"/><stop offset="0.49" stop-color="#000bff"/><stop offset="0.53" stop-color="#0012ff"/><stop offset="0.66" stop-color="#003bff"/><stop offset="0.78" stop-color="#005eff"/><stop offset="1" stop-color="#009aff"/></linearGradient><linearGradient id="g95"><stop offset="0" stop-color="#008bff"/><stop offset="0.25" stop-color="#004cff"/><stop offset="0.46" stop-color="#0010ff"/><stop offset="0.49" stop-color="#000aff"/><stop offset="0.53" stop-color="#0011ff"/><stop offset="0.66" stop-color="#0039ff"/><stop offset="0.78" stop-color="#005bff"/><stop offset="1" stop-color="#0095ff"/></linearGradient><linearGradient id="g96"><stop offset="0" stop-color="#0087ff"/><stop offset="0.25" stop-color="#004aff"/><stop offset="0.46" stop-color="#000fff"/><stop offset="0.49" stop-color="#000aff"/><stop offset="0.53" stop-color="#0011ff"/><stop offset="0.66" stop-color="#0037ff"/><stop offset="0.78" stop-color="#0058ff"/><stop offset="1" stop-color="#0090ff"/></linearGradient><linearGradient id="g97"><stop offset="0" stop-color="#0082ff"/><stop offset="0.21" stop-color="#0050ff"/><stop offset="0.33" stop-color="#0033ff"/><stop offset="0.46" stop-color="#0010ff"/><stop offset="0.49" stop-color="#000aff"/><stop offset="0.53" stop-color="#0010ff"/><stop offset="0.66" stop-color="#0035ff"/><stop offset="0.78" stop-color="#0055ff"/><stop offset="1" stop-color="#008bff"/></linearGradient><linearGradient id="g98"><stop offset="0" stop-color="#007dff"/><stop offset="0.21" stop-color="#004dff"/><stop offset="0.33" stop-color="#0031ff"/><stop offset="0.46" stop-color="#0010ff"/><stop offset="0.49" stop-color="#000aff"/><stop offset="0.53" stop-color="#0010ff"/><stop offset="0.66" stop-color="#0034ff"/><stop offset="0.78" stop-color="#0052ff"/><stop offset="1" stop-color="#0086ff"/></linearGradient><linearGradient id="g99"><stop offset="0" stop-color="#0079ff"/><stop offset="0.21" stop-color="#004aff"/><stop offset="0.46" stop-color="#000fff"/><stop offset="0.49" stop-color="#000aff"/><stop offset="0.53" stop-color="#0010ff"/><stop offset="0.66" stop-color="#0032ff"/><stop offset="0.78" stop-color="#004fff"/><stop offset="1" stop-color="#0081ff"/></linearGradient><linearGradient id="g100"><stop offset="0" stop-color="#0074ff"/><stop offset="0.21" stop-color="#0048ff"/><stop offset="0.46" stop-color="#000fff"/><stop offset="0.49" stop-color="#000aff"/><stop offset="0.53" stop-color="#000fff"/><stop offset="0.66" stop-color="#0030ff"/><stop offset="0.78" stop-color="#004cff"/><stop offset="1" stop-color="#007cff"/></linearGradient><linearGradient id="g101"><stop offset="0" stop-color="#0070ff"/><stop offset="0.21" stop-color="#0045ff"/><stop offset="0.46" stop-color="#000fff"/><stop offset="0.49" stop-color="#0009ff"/><stop offset="0.53" stop-color="#000fff"/><stop offset="0.66" stop-color="#002fff"/><stop offset="0.78" stop-color="#004aff"/><stop offset="1" stop-color="#0078ff"/></linearGradient><linearGradient id="g102"><stop offset="0" stop-color="#006cff"/><stop offset="0.21" stop-color="#0043ff"/><stop offset="0.46" stop-color="#000eff"/><stop offset="0.49" stop-color="#0009ff"/><stop offset="0.53" stop-color="#000eff"/><stop offset="0.77" stop-color="#0046ff"/><stop offset="1" stop-color="#0073ff"/></linearGradient><linearGradient id="g103"><stop offset="0" stop-color="#0068ff"/><stop offset="0.21" stop-color="#0040ff"/><stop offset="0.46" stop-color="#000eff"/><stop offset="0.49" stop-color="#0009ff"/><stop offset="0.53" stop-color="#000eff"/><stop offset="0.77" stop-color="#0043ff"/><stop offset="1" stop-color="#006fff"/></linearGradient><linearGradient id="g104"><stop offset="0" stop-color="#0064ff"/><stop offset="0.21" stop-color="#003eff"/><stop offset="0.46" stop-color="#000eff"/><stop offset="0.49" stop-color="#0009ff"/><stop offset="0.53" stop-color="#000eff"/><stop offset="0.77" stop-color="#0041ff"/><stop offset="1" stop-color="#006bff"/></linearGradient><linearGradient id="g105"><stop offset="0" stop-color="#0060ff"/><stop offset="0.21" stop-color="#003cff"/><stop offset="0.46" stop-color="#000dff"/><stop offset="0.49" stop-color="#0009ff"/><stop offset="0.53" stop-color="#000dff"/><stop offset="0.77" stop-color="#003eff"/><stop offset="1" stop-color="#0067ff"/></linearGradient><linearGradient id="g106"><stop offset="0" stop-color="#005dff"/><stop offset="0.21" stop-color="#003aff"/><stop offset="0.46" stop-color="#000dff"/><stop offset="0.49" stop-color="#0009ff"/><stop offset="0.53" stop-color="#000dff"/><stop offset="0.77" stop-color="#003cff"/><stop offset="1" stop-color="#0063ff"/></linearGradient><linearGradient id="g107"><stop offset="0" stop-color="#0059ff"/><stop offset="0.21" stop-color="#0037ff"/><stop offset="0.46" stop-color="#000cff"/><stop offset="0.49" stop-color="#0008ff"/><stop offset="0.53" stop-color="#000dff"/><stop offset="0.77" stop-color="#003aff"/><stop offset="1" stop-color="#005fff"/></linearGradient><linearGradient id="g108"><stop offset="0" stop-color="#0055ff"/><stop offset="0.21" stop-color="#0035ff"/><stop offset="0.46" stop-color="#000cff"/><stop offset="0.49" stop-color="#0008ff"/><stop offset="0.53" stop-color="#000cff"/><stop offset="0.77" stop-color="#0038ff"/><stop offset="1" stop-color="#005bff"/></linearGradient><linearGradient id="g109"><stop offset="0" stop-color="#0052ff"/><stop offset="0.21" stop-color="#0033ff"/><stop offset="0.46" stop-color="#000cff"/><stop offset="0.49" stop-color="#0008ff"/><stop offset="0.53" stop-color="#000cff"/><stop offset="0.77" stop-color="#0035ff"/><stop offset="1" stop-color="#0057ff"/></linearGradient><linearGradient id="g110"><stop offset="0" stop-color="#004fff"/><stop offset="0.21" stop-color="#0031ff"/><stop offset="0.46" stop-color="#000bff"/><stop offset="0.49" stop-color="#0008ff"/><stop offset="0.53" stop-color="#000cff"/><stop offset="0.77" stop-color="#0033ff"/><stop offset="1" stop-color="#0054ff"/></linearGradient><linearGradient id="g111"><stop offset="0" stop-color="#004cff"/><stop offset="0.21" stop-color="#002fff"/><stop offset="0.46" stop-color="#000bff"/><stop offset="0.49" stop-color="#0008ff"/><stop offset="0.53" stop-color="#000bff"/><stop offset="0.77" stop-color="#0031ff"/><stop offset="1" stop-color="#0050ff"/></linearGradient><linearGradient id="g112"><stop offset="0" stop-color="#0048ff"/><stop offset="0.22" stop-color="#002dff"/><stop offset="0.46" stop-color="#000bff"/><stop offset="0.49" stop-color="#0007ff"/><stop offset="0.53" stop-color="#000bff"/><stop offset="0.77" stop-color="#002fff"/><stop offset="1" stop-color="#004dff"/></linearGradient><linearGradient id="g113"><stop offset="0" stop-color="#0045ff"/><stop offset="0.22" stop-color="#002bff"/><stop offset="0.46" stop-color="#000aff"/><stop offset="0.49" stop-color="#0007ff"/><stop offset="0.53" stop-color="#000bff"/><stop offset="0.77" stop-color="#002dff"/><stop offset="1" stop-color="#004aff"/></linearGradient><linearGradient id="g114"><stop offset="0" stop-color="#0042ff"/><stop offset="0.22" stop-color="#0029ff"/><stop offset="0.46" stop-color="#000aff"/><stop offset="0.49" stop-color="#0007ff"/><stop offset="0.53" stop-color="#000aff"/><stop offset="0.77" stop-color="#002bff"/><stop offset="1" stop-color="#0046ff"/></linearGradient><linearGradient id="g115"><stop offset="0" stop-color="#0040ff"/><stop offset="0.22" stop-color="#0027ff"/><stop offset="0.46" stop-color="#000aff"/><stop offset="0.49" stop-color="#0007ff"/><stop offset="0.53" stop-color="#000aff"/><stop offset="0.77" stop-color="#0029ff"/><stop offset="1" stop-color="#0043ff"/></linearGradient><linearGradient id="g116"><stop offset="0" stop-color="#003dff"/><stop offset="0.22" stop-color="#0026ff"/><stop offset="0.46" stop-color="#000aff"/><stop offset="0.49" stop-color="#0007ff"/><stop offset="0.53" stop-color="#000aff"/><stop offset="0.77" stop-color="#0027ff"/><stop offset="1" stop-color="#0041ff"/></linearGradient><linearGradient id="g117"><stop offset="0" stop-color="#003aff"/><stop offset="0.22" stop-color="#0024ff"/><stop offset="0.49" stop-color="#0007ff"/><stop offset="0.77" stop-color="#0026ff"/><stop offset="1" stop-color="#003eff"/></linearGradient><linearGradient id="g118"><stop offset="0" stop-color="#0038ff"/><stop offset="0.49" stop-color="#0006ff"/><stop offset="0.77" stop-color="#0024ff"/><stop offset="1" stop-color="#003bff"/></linearGradient><linearGradient id="g119"><stop offset="0" stop-color="#0035ff"/><stop offset="0.49" stop-color="#0006ff"/><stop offset="0.77" stop-color="#0022ff"/><stop offset="1" stop-color="#0038ff"/></linearGradient><linearGradient id="g120"><stop offset="0" stop-color="#0033ff"/><stop offset="0.49" stop-color="#0006ff"/><stop offset="0.77" stop-color="#0021ff"/><stop offset="1" stop-color="#0036ff"/></linearGradient><linearGradient id="g121"><stop offset="0" stop-color="#0031ff"/><stop offset="0.49" stop-color="#0006ff"/><stop offset="1" stop-color="#0033ff"/></linearGradient><linearGradient id="g122"><stop offset="0" stop-color="#002eff"/><stop offset="0.49" stop-color="#0006ff"/><stop offset="1" stop-color="#0031ff"/></linearGradient><linearGradient id="g123"><stop offset="0" stop-color="#002cff"/><stop offset="0.49" stop-color="#0005ff"/><stop offset="1" stop-color="#002fff"/></linearGradient><linearGradient id="g124"><stop offset="0" stop-color="#002aff"/><stop offset="0.49" stop-color="#0005ff"/><stop offset="1" stop-color="#002dff"/></linearGradient><linearGradient id="g125"><stop offset="0" stop-color="#0028ff"/><stop offset="0.49" stop-color="#0005ff"/><stop offset="1" stop-color="#002aff"/></linearGradient><linearGradient id="g126"><stop offset="0" stop-color="#0026ff"/><stop offset="0.49" stop-color="#0005ff"/><stop offset="1" stop-color="#0028ff"/></linearGradient><linearGradient id="g127"><stop offset="0" stop-color="#0025ff"/><stop offset="0.49" stop-color="#0005ff"/><stop offset="1" stop-color="#0027ff"/></linearGradient><linearGradient id="g128"><stop offset="0" stop-color="#0023ff"/><stop offset="0.49" stop-color="#0005ff"/><stop offset="1" stop-color="#0025ff"/></linearGradient><linearGradient id="g129"><stop offset="0" stop-color="#0021ff"/><stop offset="0.49" stop-color="#0004ff"/><stop offset="1" stop-color="#0023ff"/></linearGradient><linearGradient id="g130"><stop offset="0" stop-color="#0020ff"/><stop offset="0.49" stop-color="#0004ff"/><stop offset="1" stop-color="#0021ff"/></linearGradient><linearGradient id="g131"><stop offset="0" stop-color="#001eff"/><stop offset="0.49" stop-color="#0004ff"/><stop offset="1" stop-color="#0020ff"/></linearGradient><linearGradient id="g132"><stop offset="0" stop-color="#001dff"/><stop offset="0.49" stop-color="#0004ff"/><stop offset="1" stop-color="#001eff"/></linearGradient><linearGradient id="g133"><stop offset="0" stop-color="#001cff"/><stop offset="0.49" stop-color="#0004ff"/><stop offset="1" stop-color="#001dff"/></linearGradient><linearGradient id="g134"><stop offset="0" stop-color="#001bff"/><stop offset="0.49" stop-color="#0004ff"/><stop offset="1" stop-color="#001cff"/></linearGradient><linearGradient id="g135"><stop offset="0" stop-color="#0019ff"/><stop offset="0.49" stop-color="#0003ff"/><stop offset="1" stop-color="#001aff"/></linearGradient><linearGradient id="g136"><stop offset="0" stop-color="#0018ff"/><stop offset="0.49" stop-color="#0003ff"/><stop offset="1" stop-color="#0019ff"/></linearGradient><linearGradient id="g137"><stop offset="0" stop-color="#0017ff"/><stop offset="0.49" stop-color="#0003ff"/><stop offset="1" stop-color="#0018ff"/></linearGradient><linearGradient id="g138"><stop offset="0" stop-color="#0016ff"/><stop offset="0.49" stop-color="#0003ff"/><stop offset="1" stop-color="#0017ff"/></linearGradient><linearGradient id="g139"><stop offset="0" stop-color="#0015ff"/><stop offset="0.49" stop-color="#0003ff"/><stop offset="1" stop-color="#0016ff"/></linearGradient><linearGradient id="g140"><stop offset="0" stop-color="#0015ff"/><stop offset="0.49" stop-color="#0002ff"/><stop offset="1" stop-color="#0015ff"/></linearGradient><linearGradient id="g141"><stop offset="0" stop-color="#0014ff"/><stop offset="0.49" stop-color="#0002ff"/><stop offset="1" stop-color="#0015ff"/></linearGradient><linearGradient id="g142"><stop offset="0" stop-color="#0013ff"/><stop offset="0.49" stop-color="#0002ff"/><stop offset="1" stop-color="#0014ff"/></linearGradient><linearGradient id="g143"><stop offset="0" stop-color="#0013ff"/><stop offset="0.49" stop-color="#0002ff"/><stop offset="1" stop-color="#0013ff"/></linearGradient><linearGradient id="g144"><stop offset="0" stop-color="#0012ff"/><stop offset="0.49" stop-color="#0002ff"/><stop offset="1" stop-color="#0013ff"/></linearGradient><linearGradient id="g145"><stop offset="0" stop-color="#0011ff"/><stop offset="0.49" stop-color="#0002ff"/><stop offset="1" stop-color="#0012ff"/></linearGradient><linearGradient id="g146"><stop offset="0" stop-color="#0011ff"/><stop offset="0.49" stop-color="#0001ff"/><stop offset="1" stop-color="#0012ff"/></linearGradient><linearGradient id="g147"><stop offset="0" stop-color="#0011ff"/><stop offset="0.49" stop-color="#0001ff"/><stop offset="1" stop-color="#0011ff"/></linearGradient><linearGradient id="g148"><stop offset="0" stop-color="#0010ff"/><stop offset="0.49" stop-color="#0001ff"/><stop offset="1" stop-color="#0011ff"/></linearGradient><linearGradient id="g149"><stop offset="0" stop-color="#0010ff"/><stop offset="0.49" stop-color="#0001ff"/><stop offset="1" stop-color="#0010ff"/></linearGradient><linearGradient id="g150"><stop offset="0" stop-color="#0010ff"/><stop offset="0.49" stop-color="#0001ff"/><stop offset="1" stop-color="#0010ff"/></linearGradient><linearGradient id="g151"><stop offset="0" stop-color="#000fff"/><stop offset="0.49" stop-color="#0000ff"/><stop offset="1" stop-color="#0010ff"/></linearGradient><linearGradient id="g152"><stop offset="0" stop-color="#000fff"/><stop offset="0.49" stop-color="#0000ff"/><stop offset="1" stop-color="#0010ff"/></linearGradient><linearGradient id="g153"><stop offset="0" stop-color="#000fff"/><stop offset="0.49" stop-color="#0000ff"/><stop offset="1" stop-color="#000fff"/></linearGradient><linearGradient id="g154"><stop offset="0" stop-color="#000fff"/><stop offset="0.49" stop-color="#0000ff"/><stop offset="1" stop-color="#000fff"/></linearGradient><linearGradient id="g155"><stop offset="0" stop-color="#000fff"/><stop offset="0.49" stop-color="#0000ff"/><stop offset="1" stop-color="#000fff"/></linearGradient><linearGradient id="cb156" x1="0" y1="1" x2="0" y2="0"><stop offset="0" stop-color="#0000ff"/><stop offset=".25" stop-color="#00ffff"/><stop offset=".5" stop-color="#00ff00"/><stop offset=".75" stop-color="#ffff00"/><stop offset="1" stop-color="#ff0000"/></linearGradient></defs>
<polygon points="2.4,111.6 213.1,60.2 283.5,120.6 283.5,132.4 55.3,196.3 2.4,123.5" fill="#9b1d9a"/>
<polygon points="2.4,111.6 55.3,183.5 55.3,190.5 2.4,118" fill="#b45fb6"/>
<polygon points="2.4,118 55.3,190.5 55.3,196.3 2.4,123.5" fill="#7483ee"/>
<polygon points="55.3,183.5 283.5,120.6 283.5,127 55.3,190.5" fill="#991b98"/>
<polygon points="55.3,190.3 283.5,126.8 283.5,132.4 55.3,196.3" fill="#4f5fe2"/>
<polygon points="2.4,111.6 213.1,60.2 283.5,120.6 55.3,183.5" fill="url(#topf)"/>
<rect x="121.5" y="2" width="35" height="84" fill="url(#beamh)" mask="url(#beamm)"/>
<ellipse cx="139" cy="80" rx="20" ry="9" fill="url(#glow)" clip-path="url(#slabtop)"/>
<polygon points="12.5,114.6 41.2,107.4 86.7,164.5 54.9,172.7" fill="#fbbd00"/>
<polygon points="55,129.2 77.5,123.5 86.2,135.2 63,140.2" fill="#fbbd00"/>
<polygon points="181,73.5 207.2,67 261.7,116.1 234,123.7" fill="#fbbd00"/>
<polygon points="181.9,96.1 201,92.5 216,101.5 194,107.5" fill="#fbbd00"/>
<polygon points="181.9,96.1 194,107.5 186,120 168,106" fill="#5c0864" opacity="0.28"/>
<polygon points="92,123 183,134 180,151 88,139" fill="#6a0a72" opacity="0.2"/>
<g fill="#5a0866" opacity="0.4"><ellipse cx="105.09" cy="136.71" rx="2.6" ry="1.5"/><path d="M105.09 136.71L102.09 130.71M100.09 133.71L108.09 134.71" stroke="#5a0866" stroke-width="0.9" fill="none"/><ellipse cx="111.96" cy="137.23" rx="2.6" ry="1.5"/><path d="M111.96 137.23L108.96 131.23M106.96 134.23L114.96 135.23" stroke="#5a0866" stroke-width="0.9" fill="none"/><ellipse cx="119.06" cy="138.29" rx="2.6" ry="1.5"/><path d="M119.06 138.29L116.06 132.29M114.06 135.29L122.06 136.29" stroke="#5a0866" stroke-width="0.9" fill="none"/><ellipse cx="125.92" cy="139.41" rx="2.6" ry="1.5"/><path d="M125.92 139.41L122.92 133.41M120.92 136.41L128.92 137.41" stroke="#5a0866" stroke-width="0.9" fill="none"/><ellipse cx="132.72" cy="140.25" rx="2.6" ry="1.5"/><path d="M132.72 140.25L129.72 134.25M127.72 137.25L135.72 138.25" stroke="#5a0866" stroke-width="0.9" fill="none"/><ellipse cx="139.77" cy="141.04" rx="2.6" ry="1.5"/><path d="M139.77 141.04L136.77 135.04M134.77 138.04L142.77 139.04" stroke="#5a0866" stroke-width="0.9" fill="none"/><ellipse cx="147.22" cy="141.65" rx="2.6" ry="1.5"/><path d="M147.22 141.65L144.22 135.65M142.22 138.65L150.22 139.65" stroke="#5a0866" stroke-width="0.9" fill="none"/><ellipse cx="154.49" cy="142.77" rx="2.6" ry="1.5"/><path d="M154.49 142.77L151.49 136.77M149.49 139.77L157.49 140.77" stroke="#5a0866" stroke-width="0.9" fill="none"/><ellipse cx="161.51" cy="144.02" rx="2.6" ry="1.5"/><path d="M161.51 144.02L158.51 138.02M156.51 141.02L164.51 142.02" stroke="#5a0866" stroke-width="0.9" fill="none"/><ellipse cx="168.31" cy="144.2" rx="2.6" ry="1.5"/><path d="M168.31 144.2L165.31 138.2M163.31 141.2L171.31 142.2" stroke="#5a0866" stroke-width="0.9" fill="none"/><ellipse cx="175.44" cy="145.64" rx="2.6" ry="1.5"/><path d="M175.44 145.64L172.44 139.64M170.44 142.64L178.44 143.64" stroke="#5a0866" stroke-width="0.9" fill="none"/></g>
<path d="M95.52 107.35L91.46 107.25M95.52 107.35L98.7 104.7M95.52 107.35L96.39 107.69M102.36 105.08L98.7 104.7M102.36 105.08L105.23 102.32M102.36 105.08L103.15 105.82M109.15 102.86L105.23 102.32M109.15 102.86L111.84 99.79M109.15 102.86L110.37 104.07M116.07 100.53L111.84 99.79M116.07 100.53L119.06 97.54M116.07 100.53L117.32 101.86M122.92 98.15L119.06 97.54M122.92 98.15L125.49 94.68M122.92 98.15L124.2 99.83M129.64 95.72L125.49 94.68M129.64 95.72L132.35 92.61M129.64 95.72L131.06 97.47M136.81 93.51L132.35 92.61M136.81 93.51L139.7 89.52M136.81 93.51L138.38 96M143.88 91.14L139.7 89.52M143.88 91.14L146.79 87.79M143.88 91.14L145.15 93.72M150.6 88.84L146.79 87.79M150.6 88.84L153.4 85.04M150.6 88.84L151.62 91.28M157.25 86.21L153.4 85.04M157.25 86.21L159.86 82.08M157.25 86.21L158.49 89.11M164.22 83.82L159.86 82.08M164.22 83.82L167.02 79.65M164.22 83.82L165.77 87.32M97.9 109.98L96.39 107.69M97.9 109.98L102.16 109.3M97.9 109.98L95.15 110.56M104.54 108.23L103.15 105.82M104.54 108.23L108.32 107.16M104.54 108.23L102.16 109.3M111.55 106.46L110.37 104.07M111.55 106.46L115.96 105.74M111.55 106.46L108.32 107.16M118.74 104.69L117.32 101.86M118.74 104.69L122.94 104.06M118.74 104.69L115.96 105.74M125.43 102.97L124.2 99.83M125.43 102.97L129.14 102.62M125.43 102.97L122.94 104.06M132.27 101.06L131.06 97.47M132.27 101.06L136.62 100.7M132.27 101.06L129.14 102.62M139.33 99.41L138.38 96M139.33 99.41L142.99 99.13M139.33 99.41L136.62 100.7M146.25 97.69L145.15 93.72M146.25 97.69L150.61 97.84M146.25 97.69L142.99 99.13M153.03 95.77L151.62 91.28M153.03 95.77L156.85 95.8M153.03 95.77L150.61 97.84M159.7 93.78L158.49 89.11M159.7 93.78L163.76 94.03M159.7 93.78L156.85 95.8M166.92 92.08L165.77 87.32M166.92 92.08L171.24 92.49M166.92 92.08L163.76 94.03M99.13 111.33L95.15 110.56M99.13 111.33L102.16 109.3M99.13 111.33L100.08 111.73M105.74 109.87L102.16 109.3M105.74 109.87L108.32 107.16M105.74 109.87L106.74 110.75M112.64 108.26L108.32 107.16M112.64 108.26L115.96 105.74M112.64 108.26L113.64 109.48M119.83 106.77L115.96 105.74M119.83 106.77L122.94 104.06M119.83 106.77L120.58 108.1M126.56 105.28L122.94 104.06M126.56 105.28L129.14 102.62M126.56 105.28L127.6 106.77M133.64 103.9L129.14 102.62M133.64 103.9L136.62 100.7M133.64 103.9L135.16 105.99M140.39 102.36L136.62 100.7M140.39 102.36L142.99 99.13M140.39 102.36L141.57 104.85M147.35 100.87L142.99 99.13M147.35 100.87L150.61 97.84M147.35 100.87L148.45 103.26M154.46 99.43L150.61 97.84M154.46 99.43L156.85 95.8M154.46 99.43L155.91 102.25M160.96 97.85L156.85 95.8M160.96 97.85L163.76 94.03M160.96 97.85L162.26 101.32M168.1 96.15L163.76 94.03M168.1 96.15L171.24 92.49M168.1 96.15L169.3 99.53M101.21 113.69L100.08 111.73M101.21 113.69L105.06 112.98M101.21 113.69L98.47 113.96M107.89 112.91L106.74 110.75M107.89 112.91L111.88 112.6M107.89 112.91L105.06 112.98M114.83 112.11L113.64 109.48M114.83 112.11L118.98 111.84M114.83 112.11L111.88 112.6M121.87 111.09L120.58 108.1M121.87 111.09L126.06 110.94M121.87 111.09L118.98 111.84M129.05 110.09L127.6 106.77M129.05 110.09L133.5 110.18M129.05 110.09L126.06 110.94M136.28 109.42L135.16 105.99M136.28 109.42L140.17 109.7M136.28 109.42L133.5 110.18M142.86 108.44L141.57 104.85M142.86 108.44L146.84 108.35M142.86 108.44L140.17 109.7M149.89 107.37L148.45 103.26M149.89 107.37L154.39 108.1M149.89 107.37L146.84 108.35M157.05 106.52L155.91 102.25M157.05 106.52L160.85 106.82M157.05 106.52L154.39 108.1M163.77 105.72L162.26 101.32M163.77 105.72L168.21 106.63M163.77 105.72L160.85 106.82M170.76 104.81L169.3 99.53M170.76 104.81L174.76 105.86M170.76 104.81L168.21 106.63M102.43 115.02L98.47 113.96M102.43 115.02L105.06 112.98M102.43 115.02L103.75 115.73M109.11 114.32L105.06 112.98M109.11 114.32L111.88 112.6M109.11 114.32L110.38 114.97M115.98 114.05L111.88 112.6M115.98 114.05L118.98 111.84M115.98 114.05L117.08 115.3M123.09 113.3L118.98 111.84M123.09 113.3L126.06 110.94M123.09 113.3L124.25 114.73M130.28 112.66L126.06 110.94M130.28 112.66L133.5 110.18M130.28 112.66L131.27 114.47M137.41 111.99L133.5 110.18M137.41 111.99L140.17 109.7M137.41 111.99L138.55 113.68M144.08 111.37L140.17 109.7M144.08 111.37L146.84 108.35M144.08 111.37L145.21 113.67M151.12 110.59L146.84 108.35M151.12 110.59L154.39 108.1M151.12 110.59L152.14 112.91M158.26 110.12L154.39 108.1M158.26 110.12L160.85 106.82M158.26 110.12L159.53 113.05M165.21 109.36L160.85 106.82M165.21 109.36L168.21 106.63M165.21 109.36L166.58 112.24M172.27 108.9L168.21 106.63M172.27 108.9L174.76 105.86M172.27 108.9L173.83 111.82M104.53 117.59L103.75 115.73M104.53 117.59L108.62 117.26M104.53 117.59L101.24 117.37M111.48 117.4L110.38 114.97M111.48 117.4L115.43 117.57M111.48 117.4L108.62 117.26M118.43 117.57L117.08 115.3M118.43 117.57L122.79 117.45M118.43 117.57L115.43 117.57M125.56 117.57L124.25 114.73M125.56 117.57L129.65 118.12M125.56 117.57L122.79 117.45M132.7 117.66L131.27 114.47M132.7 117.66L137.18 117.99M132.7 117.66L129.65 118.12M139.9 117.36L138.55 113.68M139.9 117.36L143.98 118M139.9 117.36L137.18 117.99M146.59 117.23L145.21 113.67M146.59 117.23L150.58 117.62M146.59 117.23L143.98 118M153.41 117.11L152.14 112.91M153.41 117.11L157.51 118.39M153.41 117.11L150.58 117.62M160.71 117.44L159.53 113.05M160.71 117.44L165.09 118.49M160.71 117.44L157.51 118.39M167.75 117.14L166.58 112.24M167.75 117.14L171.58 118.3M167.75 117.14L165.09 118.49M174.8 116.98L173.83 111.82M174.8 116.98L178.99 118.43M174.8 116.98L171.58 118.3M105.52 118.98L101.24 117.37M105.52 118.98L108.62 117.26M105.52 118.98L106.7 119.92M112.54 119.09L108.62 117.26M112.54 119.09L115.43 117.57M112.54 119.09L113.57 120.04M119.79 119.41L115.43 117.57M119.79 119.41L122.79 117.45M119.79 119.41L121.16 120.81M126.89 119.7L122.79 117.45M126.89 119.7L129.65 118.12M126.89 119.7L128.22 121.14M134.05 120.1L129.65 118.12M134.05 120.1L137.18 117.99M134.05 120.1L135.33 121.8M141.07 120.16L137.18 117.99M141.07 120.16L143.98 118M141.07 120.16L142.04 122.1M148.03 120.25L143.98 118M148.03 120.25L150.58 117.62M148.03 120.25L149.54 122.73M154.77 120.52L150.58 117.62M154.77 120.52L157.51 118.39M154.77 120.52L156.21 123.16M162.08 120.92L157.51 118.39M162.08 120.92L165.09 118.49M162.08 120.92L163.63 123.47M169.06 121L165.09 118.49M169.06 121L171.58 118.3M169.06 121L170.51 123.8M176.03 121.2L171.58 118.3M176.03 121.2L178.99 118.43M176.03 121.2L177.53 124.47M107.95 121.88L106.7 119.92M107.95 121.88L112.49 122.21M107.95 121.88L104.66 121.11M115.14 122.46L113.57 120.04M115.14 122.46L119.36 122.73M115.14 122.46L112.49 122.21M122.33 123.24L121.16 120.81M122.33 123.24L126.46 123.79M122.33 123.24L119.36 122.73M129.33 124.08L128.22 121.14M129.33 124.08L133.32 124.91M129.33 124.08L126.46 123.79M136.26 124.95L135.33 121.8M136.26 124.95L140.12 125.75M136.26 124.95L133.32 124.91M143.11 125.59L142.04 122.1M143.11 125.59L147.17 126.54M143.11 125.59L140.12 125.75M150.44 126.27L149.54 122.73M150.44 126.27L154.62 127.15M150.44 126.27L147.17 126.54M157.57 126.99L156.21 123.16M157.57 126.99L161.89 128.27M157.57 126.99L154.62 127.15M164.81 127.89L163.63 123.47M164.81 127.89L168.91 129.52M164.81 127.89L161.89 128.27M171.71 128.47L170.51 123.8M171.71 128.47L175.71 129.7M171.71 128.47L168.91 129.52M178.7 129.24L177.53 124.47M178.7 129.24L182.84 131.14M178.7 129.24L175.71 129.7M112.49 122.21L113.09 127.71M119.36 122.73L119.96 128.23M126.46 123.79L127.06 129.29M133.32 124.91L133.92 130.41M140.12 125.75L140.72 131.25M147.17 126.54L147.77 132.04M154.62 127.15L155.22 132.65M161.89 128.27L162.49 133.77M168.91 129.52L169.51 135.02M175.71 129.7L176.31 135.2M182.84 131.14L183.44 136.64" stroke="#cfc6d8" stroke-width="0.8" fill="none"/>
<circle cx="167.02" cy="79.65" r="1.95" fill="url(#su)"/>
<circle cx="164.22" cy="83.82" r="2.0" fill="url(#mo)"/>
<rect x="162.21" y="82.45" width="4.2" height="3.4" fill="#3fe0cc" transform="rotate(80.39 164.31 84.15)"/>
<circle cx="153.4" cy="85.04" r="1.95" fill="url(#su)"/>
<circle cx="157.25" cy="86.21" r="2.0" fill="url(#mo)"/>
<rect x="153.91" y="85.61" width="4.2" height="3.4" fill="#3fe0cc" transform="rotate(72.15 156.01 87.31)"/>
<circle cx="165.77" cy="87.32" r="1.95" fill="url(#su)"/>
<circle cx="150.6" cy="88.84" r="2.0" fill="url(#mo)"/>
<circle cx="158.49" cy="89.11" r="1.95" fill="url(#su)"/>
<circle cx="139.7" cy="89.52" r="1.95" fill="url(#su)"/>
<rect x="146.83" y="88.09" width="4.2" height="3.4" fill="#3fe0cc" transform="rotate(63.42 148.93 89.79)"/>
<rect x="162.4" y="88.93" width="4.2" height="3.4" fill="#3fe0cc" transform="rotate(77.47 164.5 90.63)"/>
<circle cx="143.88" cy="91.14" r="2.0" fill="url(#mo)"/>
<circle cx="151.62" cy="91.28" r="1.95" fill="url(#su)"/>
<circle cx="166.92" cy="92.08" r="2.0" fill="url(#mo)"/>
<circle cx="171.24" cy="92.49" r="1.95" fill="url(#su)"/>
<rect x="143.5" y="90.86" width="4.2" height="3.4" fill="#3fe0cc" transform="rotate(56.64 145.6 92.56)"/>
<rect x="154.81" y="91.75" width="4.2" height="3.4" fill="#3fe0cc" transform="rotate(36.41 156.91 93.45)"/>
<circle cx="136.81" cy="93.51" r="2.0" fill="url(#mo)"/>
<circle cx="145.15" cy="93.72" r="1.95" fill="url(#su)"/>
<circle cx="159.7" cy="93.78" r="2.0" fill="url(#mo)"/>
<circle cx="163.76" cy="94.03" r="1.95" fill="url(#su)"/>
<circle cx="125.49" cy="94.68" r="1.95" fill="url(#su)"/>
<rect x="135.31" y="93.07" width="4.2" height="3.4" fill="#3fe0cc" transform="rotate(53.96 137.41 94.77)"/>
<rect x="148.94" y="93.32" width="4.2" height="3.4" fill="#3fe0cc" transform="rotate(45.39 151.04 95.02)"/>
<rect x="128.33" y="93.83" width="4.2" height="3.4" fill="#3fe0cc" transform="rotate(88.44 130.43 95.53)"/>
<circle cx="129.64" cy="95.72" r="2.0" fill="url(#mo)"/>
<circle cx="153.03" cy="95.77" r="2.0" fill="url(#mo)"/>
<circle cx="156.85" cy="95.8" r="1.95" fill="url(#su)"/>
<circle cx="138.38" cy="96" r="1.95" fill="url(#su)"/>
<circle cx="168.1" cy="96.15" r="2.0" fill="url(#mo)"/>
<circle cx="131.06" cy="97.47" r="1.95" fill="url(#su)"/>
<circle cx="146.25" cy="97.69" r="2.0" fill="url(#mo)"/>
<circle cx="150.61" cy="97.84" r="1.95" fill="url(#su)"/>
<circle cx="160.96" cy="97.85" r="2.0" fill="url(#mo)"/>
<circle cx="122.92" cy="98.15" r="2.0" fill="url(#mo)"/>
<rect x="138.02" y="97.24" width="4.2" height="3.4" fill="#3fe0cc" transform="rotate(72.43 140.12 98.94)"/>
<circle cx="142.99" cy="99.13" r="1.95" fill="url(#su)"/>
<circle cx="139.33" cy="99.41" r="2.0" fill="url(#mo)"/>
<circle cx="154.46" cy="99.43" r="2.0" fill="url(#mo)"/>
<circle cx="169.3" cy="99.53" r="1.95" fill="url(#su)"/>
<circle cx="111.84" cy="99.79" r="1.95" fill="url(#su)"/>
<circle cx="124.2" cy="99.83" r="1.95" fill="url(#su)"/>
<rect x="130.57" y="98.15" width="4.2" height="3.4" fill="#3fe0cc" transform="rotate(23.24 132.67 99.85)"/>
<rect x="154.49" y="98.38" width="4.2" height="3.4" fill="#3fe0cc" transform="rotate(82.02 156.59 100.08)"/>
<rect x="158.38" y="98.54" width="4.2" height="3.4" fill="#3fe0cc" transform="rotate(67 160.48 100.24)"/>
<rect x="146.13" y="98.65" width="4.2" height="3.4" fill="#3fe0cc" transform="rotate(70.02 148.23 100.35)"/>
<circle cx="116.07" cy="100.53" r="2.0" fill="url(#mo)"/>
<circle cx="136.62" cy="100.7" r="1.95" fill="url(#su)"/>
<circle cx="147.35" cy="100.87" r="2.0" fill="url(#mo)"/>
<rect x="116.45" y="99.22" width="4.2" height="3.4" fill="#3fe0cc" transform="rotate(73.32 118.55 100.92)"/>
<circle cx="132.27" cy="101.06" r="2.0" fill="url(#mo)"/>
<circle cx="162.26" cy="101.32" r="1.95" fill="url(#su)"/>
<rect x="121.17" y="99.94" width="4.2" height="3.4" fill="#3fe0cc" transform="rotate(36.51 123.27 101.64)"/>
<circle cx="117.32" cy="101.86" r="1.95" fill="url(#su)"/>
<rect x="108.03" y="100.4" width="4.2" height="3.4" fill="#3fe0cc" transform="rotate(80.69 110.13 102.1)"/>
<circle cx="155.91" cy="102.25" r="1.95" fill="url(#su)"/>
<circle cx="140.39" cy="102.36" r="2.0" fill="url(#mo)"/>
<circle cx="129.14" cy="102.62" r="1.95" fill="url(#su)"/>
<circle cx="109.15" cy="102.86" r="2.0" fill="url(#mo)"/>
<circle cx="125.43" cy="102.97" r="2.0" fill="url(#mo)"/>
<rect x="115.34" y="101.31" width="4.2" height="3.4" fill="#3fe0cc" transform="rotate(79.19 117.44 103.01)"/>
<circle cx="148.45" cy="103.26" r="1.95" fill="url(#su)"/>
<circle cx="133.64" cy="103.9" r="2.0" fill="url(#mo)"/>
<rect x="163.93" y="102.22" width="4.2" height="3.4" fill="#3fe0cc" transform="rotate(62.53 166.03 103.92)"/>
<circle cx="122.94" cy="104.06" r="1.95" fill="url(#su)"/>
<circle cx="110.37" cy="104.07" r="1.95" fill="url(#su)"/>
<rect x="110.3" y="102.73" width="4.2" height="3.4" fill="#3fe0cc" transform="rotate(69.05 112.4 104.43)"/>
<rect x="134.19" y="102.84" width="4.2" height="3.4" fill="#3fe0cc" transform="rotate(68.87 136.29 104.54)"/>
<circle cx="118.74" cy="104.69" r="2.0" fill="url(#mo)"/>
<circle cx="98.7" cy="104.7" r="1.95" fill="url(#su)"/>
<circle cx="170.76" cy="104.81" r="2.0" fill="url(#mo)"/>
<circle cx="141.57" cy="104.85" r="1.95" fill="url(#su)"/>
<rect x="126.96" y="103.2" width="4.2" height="3.4" fill="#3fe0cc" transform="rotate(36.52 129.06 104.9)"/>
<circle cx="102.36" cy="105.08" r="2.0" fill="url(#mo)"/>
<circle cx="126.56" cy="105.28" r="2.0" fill="url(#mo)"/>
<rect x="145.13" y="103.87" width="4.2" height="3.4" fill="#3fe0cc" transform="rotate(65.04 147.23 105.57)"/>
<circle cx="163.77" cy="105.72" r="2.0" fill="url(#mo)"/>
<circle cx="115.96" cy="105.74" r="1.95" fill="url(#su)"/>
<circle cx="103.15" cy="105.82" r="1.95" fill="url(#su)"/>
<rect x="100.65" y="104.13" width="4.2" height="3.4" fill="#3fe0cc" transform="rotate(6.35 102.75 105.83)"/>
<circle cx="174.76" cy="105.86" r="1.95" fill="url(#su)"/>
<circle cx="135.16" cy="105.99" r="1.95" fill="url(#su)"/>
<rect x="156.13" y="104.52" width="4.2" height="3.4" fill="#3fe0cc" transform="rotate(30.75 158.23 106.22)"/>
<circle cx="111.55" cy="106.46" r="2.0" fill="url(#mo)"/>
<circle cx="157.05" cy="106.52" r="2.0" fill="url(#mo)"/>
<circle cx="168.21" cy="106.63" r="1.95" fill="url(#su)"/>
<circle cx="119.83" cy="106.77" r="2.0" fill="url(#mo)"/>
<circle cx="127.6" cy="106.77" r="1.95" fill="url(#su)"/>
<circle cx="160.85" cy="106.82" r="1.95" fill="url(#su)"/>
<rect x="134.84" y="105.24" width="4.2" height="3.4" fill="#3fe0cc" transform="rotate(42.2 136.94 106.94)"/>
<rect x="138.56" y="105.41" width="4.2" height="3.4" fill="#3fe0cc" transform="rotate(0.95 140.66 107.11)"/>
<circle cx="108.32" cy="107.16" r="1.95" fill="url(#su)"/>
<rect x="103.52" y="105.63" width="4.2" height="3.4" fill="#3fe0cc" transform="rotate(32.01 105.62 107.33)"/>
<circle cx="95.52" cy="107.35" r="2.0" fill="url(#mo)"/>
<circle cx="149.89" cy="107.37" r="2.0" fill="url(#mo)"/>
<rect x="115.79" y="105.69" width="4.2" height="3.4" fill="#3fe0cc" transform="rotate(57.48 117.89 107.39)"/>
<circle cx="96.39" cy="107.69" r="1.95" fill="url(#su)"/>
<circle cx="120.58" cy="108.1" r="1.95" fill="url(#su)"/>
<circle cx="154.39" cy="108.1" r="1.95" fill="url(#su)"/>
<circle cx="104.54" cy="108.23" r="2.0" fill="url(#mo)"/>
<circle cx="112.64" cy="108.26" r="2.0" fill="url(#mo)"/>
<circle cx="146.84" cy="108.35" r="1.95" fill="url(#su)"/>
<circle cx="142.86" cy="108.44" r="2.0" fill="url(#mo)"/>
<rect x="163.97" y="106.74" width="4.2" height="3.4" fill="#3fe0cc" transform="rotate(56.16 166.07 108.44)"/>
<rect x="92.28" y="106.77" width="4.2" height="3.4" fill="#3fe0cc" transform="rotate(20.89 94.38 108.47)"/>
<rect x="105.84" y="107.11" width="4.2" height="3.4" fill="#3fe0cc" transform="rotate(85.02 107.94 108.81)"/>
<circle cx="172.27" cy="108.9" r="2.0" fill="url(#mo)"/>
<rect x="128.12" y="107.33" width="4.2" height="3.4" fill="#3fe0cc" transform="rotate(59.95 130.22 109.03)"/>
<circle cx="102.16" cy="109.3" r="1.95" fill="url(#su)"/>
<circle cx="165.21" cy="109.36" r="2.0" fill="url(#mo)"/>
<circle cx="136.28" cy="109.42" r="2.0" fill="url(#mo)"/>
<circle cx="113.64" cy="109.48" r="1.95" fill="url(#su)"/>
<circle cx="140.17" cy="109.7" r="1.95" fill="url(#su)"/>
<circle cx="105.74" cy="109.87" r="2.0" fill="url(#mo)"/>
<circle cx="97.9" cy="109.98" r="2.0" fill="url(#mo)"/>
<circle cx="129.05" cy="110.09" r="2.0" fill="url(#mo)"/>
<circle cx="158.26" cy="110.12" r="2.0" fill="url(#mo)"/>
<circle cx="133.5" cy="110.18" r="1.95" fill="url(#su)"/>
<rect x="93.17" y="108.76" width="4.2" height="3.4" fill="#3fe0cc" transform="rotate(30.4 95.27 110.46)"/>
<rect x="117.29" y="108.78" width="4.2" height="3.4" fill="#3fe0cc" transform="rotate(59.38 119.39 110.48)"/>
<circle cx="95.15" cy="110.56" r="1.95" fill="url(#su)"/>
<circle cx="151.12" cy="110.59" r="2.0" fill="url(#mo)"/>
<rect x="158.18" y="108.98" width="4.2" height="3.4" fill="#3fe0cc" transform="rotate(51.26 160.28 110.68)"/>
<circle cx="106.74" cy="110.75" r="1.95" fill="url(#su)"/>
<rect x="98.4" y="109.19" width="4.2" height="3.4" fill="#3fe0cc" transform="rotate(47.98 100.5 110.89)"/>
<circle cx="126.06" cy="110.94" r="1.95" fill="url(#su)"/>
<rect x="152.07" y="109.32" width="4.2" height="3.4" fill="#3fe0cc" transform="rotate(35.06 154.17 111.02)"/>
<circle cx="121.87" cy="111.09" r="2.0" fill="url(#mo)"/>
<rect x="170.47" y="109.49" width="4.2" height="3.4" fill="#3fe0cc" transform="rotate(89.99 172.57 111.19)"/>
<circle cx="99.13" cy="111.33" r="2.0" fill="url(#mo)"/>
<circle cx="144.08" cy="111.37" r="2.0" fill="url(#mo)"/>
<rect x="135.52" y="109.86" width="4.2" height="3.4" fill="#3fe0cc" transform="rotate(57.8 137.62 111.56)"/>
<circle cx="100.08" cy="111.73" r="1.95" fill="url(#su)"/>
<circle cx="173.83" cy="111.82" r="1.95" fill="url(#su)"/>
<circle cx="118.98" cy="111.84" r="1.95" fill="url(#su)"/>
<circle cx="137.41" cy="111.99" r="2.0" fill="url(#mo)"/>
<rect x="142.57" y="110.34" width="4.2" height="3.4" fill="#3fe0cc" transform="rotate(63.11 144.67 112.04)"/>
<circle cx="114.83" cy="112.11" r="2.0" fill="url(#mo)"/>
<circle cx="166.58" cy="112.24" r="1.95" fill="url(#su)"/>
<circle cx="111.88" cy="112.6" r="1.95" fill="url(#su)"/>
<circle cx="130.28" cy="112.66" r="2.0" fill="url(#mo)"/>
<rect x="100.22" y="111.09" width="4.2" height="3.4" fill="#3fe0cc" transform="rotate(68.56 102.32 112.79)"/>
<circle cx="107.89" cy="112.91" r="2.0" fill="url(#mo)"/>
<circle cx="152.14" cy="112.91" r="1.95" fill="url(#su)"/>
<circle cx="105.06" cy="112.98" r="1.95" fill="url(#su)"/>
<circle cx="159.53" cy="113.05" r="1.95" fill="url(#su)"/>
<circle cx="123.09" cy="113.3" r="2.0" fill="url(#mo)"/>
<circle cx="145.21" cy="113.67" r="1.95" fill="url(#su)"/>
<circle cx="138.55" cy="113.68" r="1.95" fill="url(#su)"/>
<circle cx="101.21" cy="113.69" r="2.0" fill="url(#mo)"/>
<rect x="130.93" y="112.09" width="4.2" height="3.4" fill="#3fe0cc" transform="rotate(88.21 133.03 113.79)"/>
<circle cx="98.47" cy="113.96" r="1.95" fill="url(#su)"/>
<circle cx="115.98" cy="114.05" r="2.0" fill="url(#mo)"/>
<circle cx="109.11" cy="114.32" r="2.0" fill="url(#mo)"/>
<circle cx="131.27" cy="114.47" r="1.95" fill="url(#su)"/>
<rect x="109.47" y="112.84" width="4.2" height="3.4" fill="#3fe0cc" transform="rotate(2.05 111.57 114.54)"/>
<rect x="170.13" y="112.9" width="4.2" height="3.4" fill="#3fe0cc" transform="rotate(55.39 172.23 114.6)"/>
<rect x="114.17" y="112.96" width="4.2" height="3.4" fill="#3fe0cc" transform="rotate(66.49 116.27 114.66)"/>
<circle cx="124.25" cy="114.73" r="1.95" fill="url(#su)"/>
<circle cx="110.38" cy="114.97" r="1.95" fill="url(#su)"/>
<circle cx="102.43" cy="115.02" r="2.0" fill="url(#mo)"/>
<rect x="144.54" y="113.44" width="4.2" height="3.4" fill="#3fe0cc" transform="rotate(23.1 146.64 115.14)"/>
<rect x="101.91" y="113.54" width="4.2" height="3.4" fill="#3fe0cc" transform="rotate(36.14 104.01 115.24)"/>
<circle cx="117.08" cy="115.3" r="1.95" fill="url(#su)"/>
<rect x="164.57" y="113.8" width="4.2" height="3.4" fill="#3fe0cc" transform="rotate(4.54 166.67 115.5)"/>
<circle cx="103.75" cy="115.73" r="1.95" fill="url(#su)"/>
<rect x="125.24" y="114.18" width="4.2" height="3.4" fill="#3fe0cc" transform="rotate(17.59 127.34 115.88)"/>
<rect x="138.14" y="114.21" width="4.2" height="3.4" fill="#3fe0cc" transform="rotate(33.81 140.24 115.91)"/>
<rect x="127.26" y="114.24" width="4.2" height="3.4" fill="#3fe0cc" transform="rotate(8.86 129.36 115.94)"/>
<rect x="156.69" y="114.36" width="4.2" height="3.4" fill="#3fe0cc" transform="rotate(22.58 158.79 116.06)"/>
<rect x="149.22" y="114.45" width="4.2" height="3.4" fill="#3fe0cc" transform="rotate(81.51 151.32 116.15)"/>
<rect x="114.88" y="114.64" width="4.2" height="3.4" fill="#3fe0cc" transform="rotate(49.51 116.98 116.34)"/>
<rect x="101.66" y="114.99" width="4.2" height="3.4" fill="#3fe0cc" transform="rotate(45.7 103.76 116.69)"/>
<circle cx="174.8" cy="116.98" r="2.0" fill="url(#mo)"/>
<circle cx="153.41" cy="117.11" r="2.0" fill="url(#mo)"/>
<circle cx="167.75" cy="117.14" r="2.0" fill="url(#mo)"/>
<circle cx="146.59" cy="117.23" r="2.0" fill="url(#mo)"/>
<circle cx="108.62" cy="117.26" r="1.95" fill="url(#su)"/>
<circle cx="139.9" cy="117.36" r="2.0" fill="url(#mo)"/>
<circle cx="101.24" cy="117.37" r="1.95" fill="url(#su)"/>
<circle cx="111.48" cy="117.4" r="2.0" fill="url(#mo)"/>
<circle cx="160.71" cy="117.44" r="2.0" fill="url(#mo)"/>
<circle cx="122.79" cy="117.45" r="1.95" fill="url(#su)"/>
<rect x="111.4" y="115.82" width="4.2" height="3.4" fill="#3fe0cc" transform="rotate(87.04 113.5 117.52)"/>
<circle cx="125.56" cy="117.57" r="2.0" fill="url(#mo)"/>
<circle cx="118.43" cy="117.57" r="2.0" fill="url(#mo)"/>
<circle cx="115.43" cy="117.57" r="1.95" fill="url(#su)"/>
<circle cx="104.53" cy="117.59" r="2.0" fill="url(#mo)"/>
<circle cx="150.58" cy="117.62" r="1.95" fill="url(#su)"/>
<circle cx="132.7" cy="117.66" r="2.0" fill="url(#mo)"/>
<circle cx="137.18" cy="117.99" r="1.95" fill="url(#su)"/>
<circle cx="143.98" cy="118" r="1.95" fill="url(#su)"/>
<circle cx="129.65" cy="118.12" r="1.95" fill="url(#su)"/>
<circle cx="171.58" cy="118.3" r="1.95" fill="url(#su)"/>
<circle cx="157.51" cy="118.39" r="1.95" fill="url(#su)"/>
<circle cx="178.99" cy="118.43" r="1.95" fill="url(#su)"/>
<circle cx="165.09" cy="118.49" r="1.95" fill="url(#su)"/>
<circle cx="105.52" cy="118.98" r="2.0" fill="url(#mo)"/>
<rect x="112.67" y="117.31" width="4.2" height="3.4" fill="#3fe0cc" transform="rotate(51.12 114.77 119.01)"/>
<circle cx="112.54" cy="119.09" r="2.0" fill="url(#mo)"/>
<circle cx="119.79" cy="119.41" r="2.0" fill="url(#mo)"/>
<circle cx="126.89" cy="119.7" r="2.0" fill="url(#mo)"/>
<rect x="160.76" y="118.03" width="4.2" height="3.4" fill="#3fe0cc" transform="rotate(89.56 162.86 119.73)"/>
<circle cx="106.7" cy="119.92" r="1.95" fill="url(#su)"/>
<rect x="154.44" y="118.22" width="4.2" height="3.4" fill="#3fe0cc" transform="rotate(57.42 156.54 119.92)"/>
<circle cx="113.57" cy="120.04" r="1.95" fill="url(#su)"/>
<circle cx="134.05" cy="120.1" r="2.0" fill="url(#mo)"/>
<circle cx="141.07" cy="120.16" r="2.0" fill="url(#mo)"/>
<circle cx="148.03" cy="120.25" r="2.0" fill="url(#mo)"/>
<rect x="120.17" y="118.67" width="4.2" height="3.4" fill="#3fe0cc" transform="rotate(72.86 122.27 120.37)"/>
<circle cx="154.77" cy="120.52" r="2.0" fill="url(#mo)"/>
<rect x="124.45" y="118.93" width="4.2" height="3.4" fill="#3fe0cc" transform="rotate(6.86 126.55 120.63)"/>
<rect x="106.33" y="119.02" width="4.2" height="3.4" fill="#3fe0cc" transform="rotate(53.78 108.43 120.72)"/>
<circle cx="121.16" cy="120.81" r="1.95" fill="url(#su)"/>
<rect x="109.96" y="119.15" width="4.2" height="3.4" fill="#3fe0cc" transform="rotate(68.33 112.06 120.85)"/>
<rect x="137.91" y="119.21" width="4.2" height="3.4" fill="#3fe0cc" transform="rotate(4.06 140.01 120.91)"/>
<circle cx="162.08" cy="120.92" r="2.0" fill="url(#mo)"/>
<circle cx="169.06" cy="121" r="2.0" fill="url(#mo)"/>
<circle cx="104.66" cy="121.11" r="1.95" fill="url(#su)"/>
<circle cx="128.22" cy="121.14" r="1.95" fill="url(#su)"/>
<rect x="135.32" y="119.44" width="4.2" height="3.4" fill="#3fe0cc" transform="rotate(83.71 137.42 121.14)"/>
<circle cx="176.03" cy="121.2" r="2.0" fill="url(#mo)"/>
<rect x="144.28" y="119.78" width="4.2" height="3.4" fill="#3fe0cc" transform="rotate(14.39 146.38 121.48)"/>
<circle cx="135.33" cy="121.8" r="1.95" fill="url(#su)"/>
<circle cx="107.95" cy="121.88" r="2.0" fill="url(#mo)"/>
<circle cx="142.04" cy="122.1" r="1.95" fill="url(#su)"/>
<circle cx="112.49" cy="122.21" r="1.95" fill="url(#su)"/>
<rect x="124.72" y="120.65" width="4.2" height="3.4" fill="#3fe0cc" transform="rotate(42.46 126.82 122.35)"/>
<circle cx="115.14" cy="122.46" r="2.0" fill="url(#mo)"/>
<rect x="119.9" y="120.81" width="4.2" height="3.4" fill="#3fe0cc" transform="rotate(15.22 122 122.51)"/>
<circle cx="119.36" cy="122.73" r="1.95" fill="url(#su)"/>
<circle cx="149.54" cy="122.73" r="1.95" fill="url(#su)"/>
<rect x="168.84" y="121.3" width="4.2" height="3.4" fill="#3fe0cc" transform="rotate(44.6 170.94 123)"/>
<circle cx="156.21" cy="123.16" r="1.95" fill="url(#su)"/>
<circle cx="122.33" cy="123.24" r="2.0" fill="url(#mo)"/>
<circle cx="163.63" cy="123.47" r="1.95" fill="url(#su)"/>
<circle cx="126.46" cy="123.79" r="1.95" fill="url(#su)"/>
<circle cx="170.51" cy="123.8" r="1.95" fill="url(#su)"/>
<circle cx="129.33" cy="124.08" r="2.0" fill="url(#mo)"/>
<circle cx="177.53" cy="124.47" r="1.95" fill="url(#su)"/>
<rect x="149.36" y="123.15" width="4.2" height="3.4" fill="#3fe0cc" transform="rotate(55.01 151.46 124.85)"/>
<circle cx="133.32" cy="124.91" r="1.95" fill="url(#su)"/>
<circle cx="136.26" cy="124.95" r="2.0" fill="url(#mo)"/>
<rect x="137.15" y="123.32" width="4.2" height="3.4" fill="#3fe0cc" transform="rotate(5.27 139.25 125.02)"/>
<rect x="138.99" y="123.59" width="4.2" height="3.4" fill="#3fe0cc" transform="rotate(85.07 141.09 125.29)"/>
<circle cx="143.11" cy="125.59" r="2.0" fill="url(#mo)"/>
<rect x="155.14" y="123.97" width="4.2" height="3.4" fill="#3fe0cc" transform="rotate(37.86 157.24 125.67)"/>
<circle cx="140.12" cy="125.75" r="1.95" fill="url(#su)"/>
<circle cx="150.44" cy="126.27" r="2.0" fill="url(#mo)"/>
<circle cx="147.17" cy="126.54" r="1.95" fill="url(#su)"/>
<rect x="175.46" y="125.09" width="4.2" height="3.4" fill="#3fe0cc" transform="rotate(47.41 177.56 126.79)"/>
<rect x="159.68" y="125.22" width="4.2" height="3.4" fill="#3fe0cc" transform="rotate(53.8 161.78 126.92)"/>
<rect x="167.43" y="125.23" width="4.2" height="3.4" fill="#3fe0cc" transform="rotate(32.9 169.53 126.93)"/>
<circle cx="157.57" cy="126.99" r="2.0" fill="url(#mo)"/>
<circle cx="154.62" cy="127.15" r="1.95" fill="url(#su)"/>
<circle cx="113.09" cy="127.71" r="1.95" fill="url(#su)"/>
<circle cx="164.81" cy="127.89" r="2.0" fill="url(#mo)"/>
<circle cx="119.96" cy="128.23" r="1.95" fill="url(#su)"/>
<circle cx="161.89" cy="128.27" r="1.95" fill="url(#su)"/>
<circle cx="171.71" cy="128.47" r="2.0" fill="url(#mo)"/>
<circle cx="178.7" cy="129.24" r="2.0" fill="url(#mo)"/>
<circle cx="127.06" cy="129.29" r="1.95" fill="url(#su)"/>
<circle cx="168.91" cy="129.52" r="1.95" fill="url(#su)"/>
<circle cx="175.71" cy="129.7" r="1.95" fill="url(#su)"/>
<circle cx="133.92" cy="130.41" r="1.95" fill="url(#su)"/>
<circle cx="182.84" cy="131.14" r="1.95" fill="url(#su)"/>
<circle cx="140.72" cy="131.25" r="1.95" fill="url(#su)"/>
<circle cx="147.77" cy="132.04" r="1.95" fill="url(#su)"/>
<circle cx="155.22" cy="132.65" r="1.95" fill="url(#su)"/>
<circle cx="162.49" cy="133.77" r="1.95" fill="url(#su)"/>
<circle cx="169.51" cy="135.02" r="1.95" fill="url(#su)"/>
<circle cx="176.31" cy="135.2" r="1.95" fill="url(#su)"/>
<circle cx="183.44" cy="136.64" r="1.95" fill="url(#su)"/>
<polygon points="77.2,123.6 91.5,104.5 104,116.5 86,135.3" fill="#f9ba08"/>
<polygon points="91,104.6 113,99.4 120.3,110.2 103.5,117" fill="#fbbd00"/>
<polygon points="153.9,90.4 171.7,84.6 181.9,95.5 164.7,100.5" fill="#fbbd00"/>
<line x1="91.46" y1="107.25" x2="91.46" y2="102.25" stroke="#cfc6d8" stroke-width="0.8"/><circle cx="91.46" cy="102.25" r="2.25" fill="url(#su)"/>
<line x1="105.23" y1="102.32" x2="105.23" y2="97.32" stroke="#cfc6d8" stroke-width="0.8"/><circle cx="105.23" cy="97.32" r="2.25" fill="url(#su)"/>
<line x1="119.06" y1="97.54" x2="119.06" y2="92.54" stroke="#cfc6d8" stroke-width="0.8"/><circle cx="119.06" cy="92.54" r="2.25" fill="url(#su)"/>
<line x1="132.35" y1="92.61" x2="132.35" y2="87.61" stroke="#cfc6d8" stroke-width="0.8"/><circle cx="132.35" cy="87.61" r="2.25" fill="url(#su)"/>
<line x1="146.79" y1="87.79" x2="146.79" y2="82.79" stroke="#cfc6d8" stroke-width="0.8"/><circle cx="146.79" cy="82.79" r="2.25" fill="url(#su)"/>
<line x1="159.86" y1="82.08" x2="159.86" y2="77.08" stroke="#cfc6d8" stroke-width="0.8"/><circle cx="159.86" cy="77.08" r="2.25" fill="url(#su)"/>
<path d="M20,25.4 Q23,27.6 25.6,26.5 Q28.2,24.4 31,22.6 L32.6,23.6 Q33.4,28.2 34.9,32.3 Q31.5,33.2 28.2,33.6 Q25.5,34 23.8,35 Q22.2,30.5 20,25.4 Z" fill="#22d6c0"/>
<circle cx="27.6" cy="45.5" r="4.4" fill="url(#mo)"/>
<circle cx="27.6" cy="61.7" r="4.4" fill="url(#su)"/>
<text x="4.9" y="37.0" font-size="12.5" font-weight="bold">(a)</text>
<text x="40.6" y="34.4" font-family="'Liberation Serif', 'Times New Roman', serif" font-size="12" font-weight="bold">MNPs</text>
<text x="40.8" y="50.6" font-family="'Liberation Serif', 'Times New Roman', serif" font-size="12" font-weight="bold">Mo</text>
<text x="40.8" y="66.6" font-family="'Liberation Serif', 'Times New Roman', serif" font-size="12" font-weight="bold">S</text>
<polyline points="329.5,135.8 330.3,135.6 331.09,135.55 331.89,135.15 332.68,135.02 333.48,134.79 334.27,134.64 335.07,134.33 335.86,134.09 336.66,133.79 337.45,133.44 338.25,133.16 339.04,132.8 339.84,132.54 340.64,132.44 341.43,132.08 342.23,131.78 343.02,131.28 343.82,131.07 344.61,130.73 345.41,130.37 346.2,130.17 347,129.88 347.79,129.72 348.59,129.25 349.38,129.08 350.18,128.7 350.97,128.54 351.77,128.15 352.57,127.89 353.36,127.59 354.16,127.64 354.95,127.38 355.75,127.18 356.54,126.66 357.34,126.26 358.13,126.06 358.93,125.77 359.72,125.8 360.52,125.44 361.31,125.32 362.11,125.04 362.91,124.62 363.7,124.19 364.5,123.82 365.29,123.76 366.09,123.7 366.88,123.55 367.68,123.29 368.47,123.1 369.27,122.75 370.06,122.69 370.86,122.29 371.65,122.2 372.45,121.73 373.25,121.5 374.04,121.3 374.84,121.47 375.63,121.48 376.43,121.3 377.22,121.08 378.02,120.85 378.81,120.61 379.61,120.37 380.4,120.26 381.2,120.09 381.99,119.9 382.79,119.59 383.58,119.47 384.38,119.11 385.18,118.99 385.97,118.85 386.77,118.77 387.56,118.6 388.36,118.41 389.15,118.25 389.95,117.97 390.74,117.91 391.54,117.73 392.33,117.61 393.13,117.24 393.92,116.95 394.72,116.83 395.52,116.54 396.31,116.4 397.11,116.06 397.9,115.91 398.7,115.7 399.49,115.53 400.29,115.25 401.08,114.83 401.88,114.47 402.67,114.22 403.47,114.14 404.26,114.07 405.06,113.9 405.86,113.6 406.65,113.49 407.45,113.3 408.24,113.21 409.04,112.91 409.83,112.74 410.63,112.53 411.42,112.2 412.22,111.98 413.01,111.79 413.81,111.77 414.6,111.64 415.4,111.61 416.19,111.46 416.99,111.44 417.79,111.27 418.58,111.05 419.38,110.91 420.17,110.82 420.97,110.77 421.76,110.64 422.56,110.46 423.35,110.37 424.15,110.35 424.94,110.4 425.74,110.24 426.53,109.98 427.33,109.71 428.13,109.67 428.92,109.64 429.72,109.82 430.51,109.68 431.31,109.74 432.1,109.48 432.9,109.65 433.69,109.59 434.49,109.63 435.28,109.52 436.08,109.48 436.87,109.37 437.67,109.23 438.47,109.09 439.26,109.14 440.06,109.21 440.85,109.23 441.65,109.19 442.44,109.07 443.24,108.92 444.03,108.83 444.83,108.85 445.62,108.92 446.42,108.77 447.21,108.66 448.01,108.57 448.81,108.63 449.6,108.58 450.4,108.57 451.19,108.48 451.99,108.44 452.78,108.67 453.58,108.76 454.37,108.57 455.17,108.42 455.96,108.38 456.76,108.52 457.55,108.39 458.35,108.28 459.14,108.45 459.94,108.54 460.74,108.65 461.53,108.59 462.33,108.56 463.12,108.48 463.92,108.37 464.71,108.27 465.51,108.33 466.3,108.31 467.1,108.31 467.89,108.32 468.69,108.28 469.48,108.22 470.28,108.14 471.08,108.11 471.87,108.21 472.67,108.21 473.46,108.3 474.26,108.08 475.05,108.01 475.85,107.77 476.64,107.74 477.44,107.79 478.23,108.04 479.03,108.11 479.82,108.09 480.62,107.99 481.42,108.1 482.21,108.01 483.01,107.97 483.8,107.83 484.6,107.84 485.39,107.91 486.19,108.11 486.98,108.14 487.78,108.11 488.57,107.95 489.37,107.83 490.16,107.77 490.96,107.59 491.75,107.64 492.55,107.56 493.35,107.63 494.14,107.56 494.94,107.7 495.73,107.64 496.53,107.68 497.32,107.64 498.12,107.67 498.91,107.63 499.71,107.43 500.5,107.4 501.3,107.37 502.09,107.58 502.89,107.47 503.69,107.34 504.48,107.11 505.28,107.17 506.07,107.15 506.87,107.25 507.66,107.2 508.46,107.26 509.25,107.23 510.05,107.22 510.84,107.16 511.64,106.9 512.43,106.81 513.23,106.94 514.03,107.2 514.82,107.25 515.62,107.1 516.41,106.98 517.21,107.06 518,107.03 518.8,107.01 519.59,106.92 520.39,106.8 521.18,106.65 521.98,106.62 522.77,106.76 523.57,106.76 524.36,106.52 525.16,106.44 525.96,106.25 526.75,106.43 527.55,106.37 528.34,106.42 529.14,106.39 529.93,106.34 530.73,106.47 531.52,106.32 532.32,106.2 533.11,106.11 533.91,106.12 534.7,106.22 535.5,106.15" fill="none" stroke="#ff1a1a" stroke-width="1.5" stroke-linejoin="round"/>
<polyline points="329.5,183.88 330.3,183.2 331.09,182.74 331.89,181.95 332.68,182.02 333.48,181.25 334.27,181.08 335.07,180.32 335.86,180.27 336.66,179.78 337.45,179.45 338.25,178.87 339.04,178.28 339.84,177.82 340.64,177.14 341.43,176.4 342.23,175.51 343.02,174.81 343.82,173.84 344.61,173.08 345.41,172.32 346.2,171.8 347,170.98 347.79,169.96 348.59,169.14 349.38,167.94 350.18,167.25 350.97,166.67 351.77,166.45 352.57,165.58 353.36,165 354.16,164.45 354.95,163.53 355.75,162.89 356.54,162 357.34,161.51 358.13,160.16 358.93,159.59 359.72,159.49 360.52,159.21 361.31,158.59 362.11,157.7 362.91,157.17 363.7,156.47 364.5,155.77 365.29,155.3 366.09,154.5 366.88,153.68 367.68,152.97 368.47,152.63 369.27,152.13 370.06,151.42 370.86,150.86 371.65,150.38 372.45,149.59 373.25,148.72 374.04,147.98 374.84,147.41 375.63,146.68 376.43,145.91 377.22,145.57 378.02,144.58 378.81,143.88 379.61,143.04 380.4,142.52 381.2,141.86 381.99,141.07 382.79,140.41 383.58,139.45 384.38,138.71 385.18,137.96 385.97,137.3 386.77,136.87 387.56,136.5 388.36,136 389.15,135.38 389.95,134.61 390.74,133.81 391.54,132.68 392.33,131.9 393.13,131.81 393.92,131.02 394.72,130.46 395.52,129.47 396.31,129.21 397.11,129.03 397.9,128.83 398.7,128.55 399.49,127.39 400.29,126.73 401.08,126.01 401.88,125.81 402.67,125.02 403.47,124.31 404.26,123.64 405.06,123.33 405.86,123.31 406.65,122.7 407.45,121.83 408.24,120.48 409.04,119.91 409.83,119.46 410.63,119.01 411.42,118.68 412.22,118.19 413.01,117.86 413.81,117 414.6,115.94 415.4,115.13 416.19,114.51 416.99,114.37 417.79,114.03 418.58,113.89 419.38,113.58 420.17,113.62 420.97,113.38 421.76,113.2 422.56,112.34 423.35,111.75 424.15,111.09 424.94,110.72 425.74,110.62 426.53,110.39 427.33,110.1 428.13,109.84 428.92,109.65 429.72,109.84 430.51,109.95 431.31,109.95 432.1,109.9 432.9,109.46 433.69,109.41 434.49,109.07 435.28,109.29 436.08,108.73 436.87,108.41 437.67,107.97 438.47,108.31 439.26,108.37 440.06,108.01 440.85,107.59 441.65,107.29 442.44,107.48 443.24,107.49 444.03,107.09 444.83,106.48 445.62,106.31 446.42,106.45 447.21,106.51 448.01,106.22 448.81,105.67 449.6,105.27 450.4,104.7 451.19,104.66 451.99,104.67 452.78,104.76 453.58,104.2 454.37,103.87 455.17,103.74 455.96,103.72 456.76,103.39 457.55,103.04 458.35,102.82 459.14,102.96 459.94,102.72 460.74,102.97 461.53,102.74 462.33,102.77 463.12,102.23 463.92,101.85 464.71,101.85 465.51,102.07 466.3,101.64 467.1,101.02 467.89,100.89 468.69,100.62 469.48,100.73 470.28,100.63 471.08,100.94 471.87,100.6 472.67,100 473.46,99.68 474.26,99.79 475.05,100.04 475.85,100.34 476.64,100.17 477.44,100.06 478.23,99.66 479.03,99.75 479.82,99.63 480.62,99.71 481.42,99.59 482.21,99.59 483.01,99.51 483.8,99.4 484.6,98.98 485.39,98.65 486.19,98.51 486.98,98.33 487.78,98.09 488.57,97.39 489.37,97.28 490.16,97.13 490.96,97.26 491.75,96.98 492.55,96.63 493.35,96.25 494.14,96.09 494.94,95.84 495.73,95.62 496.53,95.3 497.32,95.32 498.12,95.06 498.91,95.03 499.71,94.78 500.5,94.55 501.3,93.78 502.09,93.23 502.89,93 503.69,93.11 504.48,92.8 505.28,92.24 506.07,91.65 506.87,91.48 507.66,91.32 508.46,91.22 509.25,90.87 510.05,90.69 510.84,90.33 511.64,90.31 512.43,90.05 513.23,89.63 514.03,89.11 514.82,88.51 515.62,88.49 516.41,88.09 517.21,87.81 518,87.46 518.8,87.2 519.59,86.5 520.39,86.07 521.18,85.67 521.98,85.75 522.77,85.19 523.57,84.63 524.36,83.92 525.16,83.35 525.96,82.97 526.75,82.74 527.55,82.66 528.34,82.37 529.14,81.95 529.93,81.1 530.73,80.33 531.52,79.57 532.32,79.04 533.11,78.58 533.91,77.87 534.7,77.71 535.5,77.39" fill="none" stroke="#1515ff" stroke-width="1.6" stroke-linejoin="round"/>
<rect x="329.6" y="27.4" width="205.9" height="164.9" fill="none" stroke="#111" stroke-width="1.5"/>
<line x1="329.5" y1="192.3" x2="332.5" y2="192.3" stroke="#111" stroke-width="1.1"/>
<line x1="329.5" y1="171.7" x2="331.1" y2="171.7" stroke="#111" stroke-width="1.1"/>
<line x1="329.5" y1="151.1" x2="332.5" y2="151.1" stroke="#111" stroke-width="1.1"/>
<line x1="329.5" y1="130.5" x2="331.1" y2="130.5" stroke="#111" stroke-width="1.1"/>
<line x1="329.5" y1="109.9" x2="332.5" y2="109.9" stroke="#111" stroke-width="1.1"/>
<line x1="329.5" y1="89.3" x2="331.1" y2="89.3" stroke="#111" stroke-width="1.1"/>
<line x1="329.5" y1="68.7" x2="332.5" y2="68.7" stroke="#111" stroke-width="1.1"/>
<line x1="329.5" y1="48.1" x2="331.1" y2="48.1" stroke="#111" stroke-width="1.1"/>
<line x1="329.5" y1="27.5" x2="332.5" y2="27.5" stroke="#111" stroke-width="1.1"/>
<line x1="329.5" y1="192.3" x2="329.5" y2="189.3" stroke="#111" stroke-width="1.1"/>
<line x1="355.25" y1="192.3" x2="355.25" y2="190.7" stroke="#111" stroke-width="1.1"/>
<line x1="381" y1="192.3" x2="381" y2="189.3" stroke="#111" stroke-width="1.1"/>
<line x1="406.75" y1="192.3" x2="406.75" y2="190.7" stroke="#111" stroke-width="1.1"/>
<line x1="432.5" y1="192.3" x2="432.5" y2="189.3" stroke="#111" stroke-width="1.1"/>
<line x1="458.25" y1="192.3" x2="458.25" y2="190.7" stroke="#111" stroke-width="1.1"/>
<line x1="484" y1="192.3" x2="484" y2="189.3" stroke="#111" stroke-width="1.1"/>
<line x1="509.75" y1="192.3" x2="509.75" y2="190.7" stroke="#111" stroke-width="1.1"/>
<line x1="535.5" y1="192.3" x2="535.5" y2="189.3" stroke="#111" stroke-width="1.1"/>
<text x="326.4" y="33.8" font-size="11" font-weight="bold" stroke="#000" stroke-width="0.2" text-anchor="end">2.0</text>
<text x="326.4" y="73.5" font-size="11" font-weight="bold" stroke="#000" stroke-width="0.2" text-anchor="end">1.0</text>
<text x="326.4" y="114.4" font-size="11" font-weight="bold" stroke="#000" stroke-width="0.2" text-anchor="end">0.0</text>
<text x="326.4" y="155.5" font-size="11" font-weight="bold" stroke="#000" stroke-width="0.2" text-anchor="end">−1.0</text>
<text x="326.4" y="196.8" font-size="11" font-weight="bold" stroke="#000" stroke-width="0.2" text-anchor="end">−2.0</text>
<text x="313.2" y="205.9" font-size="11" font-weight="bold" stroke="#000" stroke-width="0.2">−1.0</text>
<text x="366.8" y="205.9" font-size="11" font-weight="bold" stroke="#000" stroke-width="0.2">−0.5</text>
<text x="425.4" y="205.9" font-size="11" font-weight="bold" stroke="#000" stroke-width="0.2">0.0</text>
<text x="477.3" y="205.9" font-size="11" font-weight="bold" stroke="#000" stroke-width="0.2">0.5</text>
<text x="526" y="205.9" font-size="11" font-weight="bold" stroke="#000" stroke-width="0.2">1.0</text>
<text x="432.5" y="222.8" font-size="14.5" text-anchor="middle">Voltage (V)</text>
<text transform="translate(298.6,107.4) rotate(-90)" font-size="14.3" text-anchor="middle">Current (nA)</text>
<text x="287.3" y="36.6" font-size="12" font-weight="bold">(b)</text>
<line x1="436.4" y1="49.5" x2="458.7" y2="49.5" stroke="#ff1a1a" stroke-width="1.7"/>
<line x1="436.4" y1="63.2" x2="458.7" y2="63.2" stroke="#1515ff" stroke-width="1.7"/>
<text x="460.5" y="53.2" font-size="9.5">MNPs/MoS<tspan font-size="6.5" dy="2">2</tspan></text>
<text x="460.5" y="66.3" font-size="9.5">Pristine MoS<tspan font-size="6.5" dy="2">2</tspan></text>
<g clip-path="url(#insetc)">
<rect x="450.7" y="125.2" width="53.2" height="47.3" fill="#3c3055"/>
<polygon points="472,125.2 480,125.2 484,139.5 484,166.6 471.5,166.6 471.5,139.5" fill="#34284c"/>
<rect x="447.7" y="139.5" width="24" height="27.1" rx="2.2" fill="#ebc483" stroke="#4a3a3a" stroke-width="0.6"/>
<rect x="483.9" y="139.5" width="23" height="27.1" rx="2.2" fill="#ebc483" stroke="#4a3a3a" stroke-width="0.6"/>
<line x1="492.2" y1="171.2" x2="503" y2="171.2" stroke="#fff" stroke-width="1"/>
</g>
<g clip-path="url(#clip1)"><g filter="url(#vblur)" shape-rendering="crispEdges">
<rect x="51.5" y="238" width="150.3" height="2" fill="url(#g2)"/>
<rect x="51.5" y="240" width="150.3" height="2" fill="url(#g3)"/>
<rect x="51.5" y="242" width="150.3" height="2" fill="url(#g4)"/>
<rect x="51.5" y="244" width="150.3" height="2" fill="url(#g5)"/>
<rect x="51.5" y="246" width="150.3" height="2" fill="url(#g6)"/>
<rect x="51.5" y="248" width="150.3" height="2" fill="url(#g7)"/>
<rect x="51.5" y="250" width="150.3" height="2" fill="url(#g8)"/>
<rect x="51.5" y="252" width="150.3" height="2" fill="url(#g9)"/>
<rect x="51.5" y="254" width="150.3" height="2" fill="url(#g10)"/>
<rect x="51.5" y="256" width="150.3" height="2" fill="url(#g11)"/>
<rect x="51.5" y="258" width="150.3" height="2" fill="url(#g12)"/>
<rect x="51.5" y="260" width="150.3" height="2" fill="url(#g13)"/>
<rect x="51.5" y="262" width="150.3" height="2" fill="url(#g14)"/>
<rect x="51.5" y="264" width="150.3" height="2" fill="url(#g15)"/>
<rect x="51.5" y="266" width="150.3" height="2" fill="url(#g16)"/>
<rect x="51.5" y="268" width="150.3" height="2" fill="url(#g17)"/>
<rect x="51.5" y="270" width="150.3" height="2" fill="url(#g18)"/>
<rect x="51.5" y="272" width="150.3" height="2" fill="url(#g19)"/>
<rect x="51.5" y="274" width="150.3" height="2" fill="url(#g20)"/>
<rect x="51.5" y="276" width="150.3" height="2" fill="url(#g21)"/>
<rect x="51.5" y="278" width="150.3" height="2" fill="url(#g22)"/>
<rect x="51.5" y="280" width="150.3" height="2" fill="url(#g23)"/>
<rect x="51.5" y="282" width="150.3" height="2" fill="url(#g24)"/>
<rect x="51.5" y="284" width="150.3" height="2" fill="url(#g25)"/>
<rect x="51.5" y="286" width="150.3" height="2" fill="url(#g26)"/>
<rect x="51.5" y="288" width="150.3" height="2" fill="url(#g27)"/>
<rect x="51.5" y="290" width="150.3" height="2" fill="url(#g28)"/>
<rect x="51.5" y="292" width="150.3" height="2" fill="url(#g29)"/>
<rect x="51.5" y="294" width="150.3" height="2" fill="url(#g30)"/>
<rect x="51.5" y="296" width="150.3" height="2" fill="url(#g31)"/>
<rect x="51.5" y="298" width="150.3" height="2" fill="url(#g32)"/>
<rect x="51.5" y="300" width="150.3" height="2" fill="url(#g33)"/>
<rect x="51.5" y="302" width="150.3" height="2" fill="url(#g34)"/>
<rect x="51.5" y="304" width="150.3" height="2" fill="url(#g35)"/>
<rect x="51.5" y="306" width="150.3" height="2" fill="url(#g36)"/>
<rect x="51.5" y="308" width="150.3" height="2" fill="url(#g37)"/>
<rect x="51.5" y="310" width="150.3" height="2" fill="url(#g38)"/>
<rect x="51.5" y="312" width="150.3" height="2" fill="url(#g39)"/>
<rect x="51.5" y="314" width="150.3" height="2" fill="url(#g40)"/>
<rect x="51.5" y="316" width="150.3" height="2" fill="url(#g41)"/>
<rect x="51.5" y="318" width="150.3" height="2" fill="url(#g42)"/>
<rect x="51.5" y="320" width="150.3" height="2" fill="url(#g43)"/>
<rect x="51.5" y="322" width="150.3" height="2" fill="url(#g44)"/>
<rect x="51.5" y="324" width="150.3" height="2" fill="url(#g45)"/>
<rect x="51.5" y="326" width="150.3" height="2" fill="url(#g46)"/>
<rect x="51.5" y="328" width="150.3" height="2" fill="url(#g47)"/>
<rect x="51.5" y="330" width="150.3" height="2" fill="url(#g48)"/>
<rect x="51.5" y="332" width="150.3" height="2" fill="url(#g49)"/>
<rect x="51.5" y="334" width="150.3" height="2" fill="url(#g50)"/>
<rect x="51.5" y="336" width="150.3" height="2" fill="url(#g51)"/>
<rect x="51.5" y="338" width="150.3" height="2" fill="url(#g52)"/>
<rect x="51.5" y="340" width="150.3" height="2" fill="url(#g53)"/>
<rect x="51.5" y="342" width="150.3" height="2" fill="url(#g54)"/>
<rect x="51.5" y="344" width="150.3" height="2" fill="url(#g55)"/>
<rect x="51.5" y="346" width="150.3" height="2" fill="url(#g56)"/>
<rect x="51.5" y="348" width="150.3" height="2" fill="url(#g57)"/>
<rect x="51.5" y="350" width="150.3" height="2" fill="url(#g58)"/>
<rect x="51.5" y="352" width="150.3" height="2" fill="url(#g59)"/>
<rect x="51.5" y="354" width="150.3" height="2" fill="url(#g60)"/>
<rect x="51.5" y="356" width="150.3" height="2" fill="url(#g61)"/>
<rect x="51.5" y="358" width="150.3" height="2" fill="url(#g62)"/>
<rect x="51.5" y="360" width="150.3" height="2" fill="url(#g63)"/>
<rect x="51.5" y="362" width="150.3" height="2" fill="url(#g64)"/>
<rect x="51.5" y="364" width="150.3" height="2" fill="url(#g65)"/>
<rect x="51.5" y="366" width="150.3" height="2" fill="url(#g66)"/>
<rect x="51.5" y="368" width="150.3" height="2" fill="url(#g67)"/>
<rect x="51.5" y="370" width="150.3" height="2" fill="url(#g68)"/>
<rect x="51.5" y="372" width="150.3" height="2" fill="url(#g69)"/>
<rect x="51.5" y="374" width="150.3" height="2" fill="url(#g70)"/>
<rect x="51.5" y="376" width="150.3" height="2" fill="url(#g71)"/>
<rect x="51.5" y="378" width="150.3" height="2" fill="url(#g72)"/>
<rect x="51.5" y="380" width="150.3" height="2" fill="url(#g73)"/>
<rect x="51.5" y="382" width="150.3" height="2" fill="url(#g74)"/>
<rect x="51.5" y="384" width="150.3" height="2" fill="url(#g75)"/>
<rect x="51.5" y="386" width="150.3" height="2" fill="url(#g76)"/>
<rect x="51.5" y="388" width="150.3" height="2" fill="url(#g77)"/>
</g></g>
<rect x="51.5" y="241.3" width="150.3" height="144.1" fill="none" stroke="#111" stroke-width="1.3"/>
<line x1="51.5" y1="385.4" x2="54.5" y2="385.4" stroke="#111" stroke-width="1.2"/>
<line x1="51.5" y1="367.98" x2="53.3" y2="367.98" stroke="#111" stroke-width="1.2"/>
<line x1="51.5" y1="350.57" x2="54.5" y2="350.57" stroke="#111" stroke-width="1.2"/>
<line x1="51.5" y1="333.15" x2="53.3" y2="333.15" stroke="#111" stroke-width="1.2"/>
<line x1="51.5" y1="315.74" x2="54.5" y2="315.74" stroke="#111" stroke-width="1.2"/>
<line x1="51.5" y1="298.32" x2="53.3" y2="298.32" stroke="#111" stroke-width="1.2"/>
<line x1="51.5" y1="280.91" x2="54.5" y2="280.91" stroke="#111" stroke-width="1.2"/>
<line x1="51.5" y1="263.5" x2="53.3" y2="263.5" stroke="#111" stroke-width="1.2"/>
<line x1="51.5" y1="246.08" x2="54.5" y2="246.08" stroke="#111" stroke-width="1.2"/>
<line x1="51.5" y1="385.4" x2="51.5" y2="388.2" stroke="#111" stroke-width="1.2"/>
<line x1="70.29" y1="385.4" x2="70.29" y2="387.2" stroke="#111" stroke-width="1.2"/>
<line x1="89.08" y1="385.4" x2="89.08" y2="388.2" stroke="#111" stroke-width="1.2"/>
<line x1="107.86" y1="385.4" x2="107.86" y2="387.2" stroke="#111" stroke-width="1.2"/>
<line x1="126.65" y1="385.4" x2="126.65" y2="388.2" stroke="#111" stroke-width="1.2"/>
<line x1="145.44" y1="385.4" x2="145.44" y2="387.2" stroke="#111" stroke-width="1.2"/>
<line x1="164.23" y1="385.4" x2="164.23" y2="388.2" stroke="#111" stroke-width="1.2"/>
<line x1="183.01" y1="385.4" x2="183.01" y2="387.2" stroke="#111" stroke-width="1.2"/>
<line x1="201.8" y1="385.4" x2="201.8" y2="388.2" stroke="#111" stroke-width="1.2"/>
<text x="46.6" y="388.4" font-size="8.5" font-weight="bold" stroke="#000" stroke-width="0.2" text-anchor="end">0</text>
<text x="46.6" y="353.57" font-size="8.5" font-weight="bold" stroke="#000" stroke-width="0.2" text-anchor="end">1</text>
<text x="46.6" y="318.74" font-size="8.5" font-weight="bold" stroke="#000" stroke-width="0.2" text-anchor="end">2</text>
<text x="46.6" y="283.91" font-size="8.5" font-weight="bold" stroke="#000" stroke-width="0.2" text-anchor="end">3</text>
<text x="46.6" y="250.48" font-size="8.5" font-weight="bold" stroke="#000" stroke-width="0.2" text-anchor="end">4</text>
<text x="42.2" y="395.7" font-size="8.5" font-weight="bold" stroke="#000" stroke-width="0.2">−1.0</text>
<text x="78.8" y="395.7" font-size="8.5" font-weight="bold" stroke="#000" stroke-width="0.2">−0.5</text>
<text x="120.5" y="395.7" font-size="8.5" font-weight="bold" stroke="#000" stroke-width="0.2">0.0</text>
<text x="157.8" y="395.7" font-size="8.5" font-weight="bold" stroke="#000" stroke-width="0.2">0.5</text>
<text x="195.3" y="395.7" font-size="8.5" font-weight="bold" stroke="#000" stroke-width="0.2">1.0</text>
<text x="126.45" y="413.1" font-size="12.3" text-anchor="middle">Voltage (V)</text>
<text transform="translate(37.2,312.7) rotate(-90)" font-size="12.1" text-anchor="middle">Light intensity (mW/cm<tspan font-size="8" dy="-4.5">2</tspan><tspan dy="4.5">)</tspan></text>
<text x="56" y="262.5" font-family="'Liberation Serif', 'Times New Roman', serif" font-size="21">@635 nm</text>
<rect x="205.3" y="244" width="11.7" height="139.2" fill="url(#cb78)" stroke="#222" stroke-width="0.8"/>
<line x1="217" y1="244" x2="219.5" y2="244" stroke="#111" stroke-width="1"/>
<text x="221.7" y="247.9" font-size="9.75" font-weight="bold" stroke="#000" stroke-width="0.2">6.4×10<tspan font-size="6.5" dy="-4.4">1</tspan></text>
<line x1="217" y1="278.8" x2="219.5" y2="278.8" stroke="#111" stroke-width="1"/>
<text x="221.7" y="282.7" font-size="9.75" font-weight="bold" stroke="#000" stroke-width="0.2">4.8×10<tspan font-size="6.5" dy="-4.4">1</tspan></text>
<line x1="217" y1="313.6" x2="219.5" y2="313.6" stroke="#111" stroke-width="1"/>
<text x="221.7" y="317.5" font-size="9.75" font-weight="bold" stroke="#000" stroke-width="0.2">3.2×10<tspan font-size="6.5" dy="-4.4">1</tspan></text>
<line x1="217" y1="348.4" x2="219.5" y2="348.4" stroke="#111" stroke-width="1"/>
<text x="221.7" y="352.3" font-size="9.75" font-weight="bold" stroke="#000" stroke-width="0.2">1.6×10<tspan font-size="6.5" dy="-4.4">1</tspan></text>
<line x1="217" y1="383.2" x2="219.5" y2="383.2" stroke="#111" stroke-width="1"/>
<text x="221.7" y="387.1" font-size="9.75" font-weight="bold" stroke="#000" stroke-width="0.2">1.0×10<tspan font-size="6.5" dy="-4.4">−5</tspan></text>
<text transform="translate(267.2,309.9) rotate(-90)" font-size="12" text-anchor="middle">Photocurrent (nA)</text>
<text x="5.2" y="248" font-size="12" font-weight="bold">(c)</text>
<g clip-path="url(#clip79)"><g filter="url(#vblur)" shape-rendering="crispEdges">
<rect x="326.7" y="237" width="150.3" height="2" fill="url(#g80)"/>
<rect x="326.7" y="239" width="150.3" height="2" fill="url(#g81)"/>
<rect x="326.7" y="241" width="150.3" height="2" fill="url(#g82)"/>
<rect x="326.7" y="243" width="150.3" height="2" fill="url(#g83)"/>
<rect x="326.7" y="245" width="150.3" height="2" fill="url(#g84)"/>
<rect x="326.7" y="247" width="150.3" height="2" fill="url(#g85)"/>
<rect x="326.7" y="249" width="150.3" height="2" fill="url(#g86)"/>
<rect x="326.7" y="251" width="150.3" height="2" fill="url(#g87)"/>
<rect x="326.7" y="253" width="150.3" height="2" fill="url(#g88)"/>
<rect x="326.7" y="255" width="150.3" height="2" fill="url(#g89)"/>
<rect x="326.7" y="257" width="150.3" height="2" fill="url(#g90)"/>
<rect x="326.7" y="259" width="150.3" height="2" fill="url(#g91)"/>
<rect x="326.7" y="261" width="150.3" height="2" fill="url(#g92)"/>
<rect x="326.7" y="263" width="150.3" height="2" fill="url(#g93)"/>
<rect x="326.7" y="265" width="150.3" height="2" fill="url(#g94)"/>
<rect x="326.7" y="267" width="150.3" height="2" fill="url(#g95)"/>
<rect x="326.7" y="269" width="150.3" height="2" fill="url(#g96)"/>
<rect x="326.7" y="271" width="150.3" height="2" fill="url(#g97)"/>
<rect x="326.7" y="273" width="150.3" height="2" fill="url(#g98)"/>
<rect x="326.7" y="275" width="150.3" height="2" fill="url(#g99)"/>
<rect x="326.7" y="277" width="150.3" height="2" fill="url(#g100)"/>
<rect x="326.7" y="279" width="150.3" height="2" fill="url(#g101)"/>
<rect x="326.7" y="281" width="150.3" height="2" fill="url(#g102)"/>
<rect x="326.7" y="283" width="150.3" height="2" fill="url(#g103)"/>
<rect x="326.7" y="285" width="150.3" height="2" fill="url(#g104)"/>
<rect x="326.7" y="287" width="150.3" height="2" fill="url(#g105)"/>
<rect x="326.7" y="289" width="150.3" height="2" fill="url(#g106)"/>
<rect x="326.7" y="291" width="150.3" height="2" fill="url(#g107)"/>
<rect x="326.7" y="293" width="150.3" height="2" fill="url(#g108)"/>
<rect x="326.7" y="295" width="150.3" height="2" fill="url(#g109)"/>
<rect x="326.7" y="297" width="150.3" height="2" fill="url(#g110)"/>
<rect x="326.7" y="299" width="150.3" height="2" fill="url(#g111)"/>
<rect x="326.7" y="301" width="150.3" height="2" fill="url(#g112)"/>
<rect x="326.7" y="303" width="150.3" height="2" fill="url(#g113)"/>
<rect x="326.7" y="305" width="150.3" height="2" fill="url(#g114)"/>
<rect x="326.7" y="307" width="150.3" height="2" fill="url(#g115)"/>
<rect x="326.7" y="309" width="150.3" height="2" fill="url(#g116)"/>
<rect x="326.7" y="311" width="150.3" height="2" fill="url(#g117)"/>
<rect x="326.7" y="313" width="150.3" height="2" fill="url(#g118)"/>
<rect x="326.7" y="315" width="150.3" height="2" fill="url(#g119)"/>
<rect x="326.7" y="317" width="150.3" height="2" fill="url(#g120)"/>
<rect x="326.7" y="319" width="150.3" height="2" fill="url(#g121)"/>
<rect x="326.7" y="321" width="150.3" height="2" fill="url(#g122)"/>
<rect x="326.7" y="323" width="150.3" height="2" fill="url(#g123)"/>
<rect x="326.7" y="325" width="150.3" height="2" fill="url(#g124)"/>
<rect x="326.7" y="327" width="150.3" height="2" fill="url(#g125)"/>
<rect x="326.7" y="329" width="150.3" height="2" fill="url(#g126)"/>
<rect x="326.7" y="331" width="150.3" height="2" fill="url(#g127)"/>
<rect x="326.7" y="333" width="150.3" height="2" fill="url(#g128)"/>
<rect x="326.7" y="335" width="150.3" height="2" fill="url(#g129)"/>
<rect x="326.7" y="337" width="150.3" height="2" fill="url(#g130)"/>
<rect x="326.7" y="339" width="150.3" height="2" fill="url(#g131)"/>
<rect x="326.7" y="341" width="150.3" height="2" fill="url(#g132)"/>
<rect x="326.7" y="343" width="150.3" height="2" fill="url(#g133)"/>
<rect x="326.7" y="345" width="150.3" height="2" fill="url(#g134)"/>
<rect x="326.7" y="347" width="150.3" height="2" fill="url(#g135)"/>
<rect x="326.7" y="349" width="150.3" height="2" fill="url(#g136)"/>
<rect x="326.7" y="351" width="150.3" height="2" fill="url(#g137)"/>
<rect x="326.7" y="353" width="150.3" height="2" fill="url(#g138)"/>
<rect x="326.7" y="355" width="150.3" height="2" fill="url(#g139)"/>
<rect x="326.7" y="357" width="150.3" height="2" fill="url(#g140)"/>
<rect x="326.7" y="359" width="150.3" height="2" fill="url(#g141)"/>
<rect x="326.7" y="361" width="150.3" height="2" fill="url(#g142)"/>
<rect x="326.7" y="363" width="150.3" height="2" fill="url(#g143)"/>
<rect x="326.7" y="365" width="150.3" height="2" fill="url(#g144)"/>
<rect x="326.7" y="367" width="150.3" height="2" fill="url(#g145)"/>
<rect x="326.7" y="369" width="150.3" height="2" fill="url(#g146)"/>
<rect x="326.7" y="371" width="150.3" height="2" fill="url(#g147)"/>
<rect x="326.7" y="373" width="150.3" height="2" fill="url(#g148)"/>
<rect x="326.7" y="375" width="150.3" height="2" fill="url(#g149)"/>
<rect x="326.7" y="377" width="150.3" height="2" fill="url(#g150)"/>
<rect x="326.7" y="379" width="150.3" height="2" fill="url(#g151)"/>
<rect x="326.7" y="381" width="150.3" height="2" fill="url(#g152)"/>
<rect x="326.7" y="383" width="150.3" height="2" fill="url(#g153)"/>
<rect x="326.7" y="385" width="150.3" height="2" fill="url(#g154)"/>
<rect x="326.7" y="387" width="150.3" height="2" fill="url(#g155)"/>
</g></g>
<rect x="326.7" y="240.5" width="150.3" height="144.9" fill="none" stroke="#111" stroke-width="1.3"/>
<line x1="326.7" y1="385.4" x2="329.7" y2="385.4" stroke="#111" stroke-width="1.2"/>
<line x1="326.7" y1="367.98" x2="328.5" y2="367.98" stroke="#111" stroke-width="1.2"/>
<line x1="326.7" y1="350.57" x2="329.7" y2="350.57" stroke="#111" stroke-width="1.2"/>
<line x1="326.7" y1="333.15" x2="328.5" y2="333.15" stroke="#111" stroke-width="1.2"/>
<line x1="326.7" y1="315.74" x2="329.7" y2="315.74" stroke="#111" stroke-width="1.2"/>
<line x1="326.7" y1="298.32" x2="328.5" y2="298.32" stroke="#111" stroke-width="1.2"/>
<line x1="326.7" y1="280.91" x2="329.7" y2="280.91" stroke="#111" stroke-width="1.2"/>
<line x1="326.7" y1="263.5" x2="328.5" y2="263.5" stroke="#111" stroke-width="1.2"/>
<line x1="326.7" y1="246.08" x2="329.7" y2="246.08" stroke="#111" stroke-width="1.2"/>
<line x1="326.7" y1="385.4" x2="326.7" y2="388.2" stroke="#111" stroke-width="1.2"/>
<line x1="345.49" y1="385.4" x2="345.49" y2="387.2" stroke="#111" stroke-width="1.2"/>
<line x1="364.27" y1="385.4" x2="364.27" y2="388.2" stroke="#111" stroke-width="1.2"/>
<line x1="383.06" y1="385.4" x2="383.06" y2="387.2" stroke="#111" stroke-width="1.2"/>
<line x1="401.85" y1="385.4" x2="401.85" y2="388.2" stroke="#111" stroke-width="1.2"/>
<line x1="420.64" y1="385.4" x2="420.64" y2="387.2" stroke="#111" stroke-width="1.2"/>
<line x1="439.43" y1="385.4" x2="439.43" y2="388.2" stroke="#111" stroke-width="1.2"/>
<line x1="458.21" y1="385.4" x2="458.21" y2="387.2" stroke="#111" stroke-width="1.2"/>
<line x1="477" y1="385.4" x2="477" y2="388.2" stroke="#111" stroke-width="1.2"/>
<text x="321.8" y="388.4" font-size="8.5" font-weight="bold" stroke="#000" stroke-width="0.2" text-anchor="end">0</text>
<text x="321.8" y="353.57" font-size="8.5" font-weight="bold" stroke="#000" stroke-width="0.2" text-anchor="end">1</text>
<text x="321.8" y="318.74" font-size="8.5" font-weight="bold" stroke="#000" stroke-width="0.2" text-anchor="end">2</text>
<text x="321.8" y="283.91" font-size="8.5" font-weight="bold" stroke="#000" stroke-width="0.2" text-anchor="end">3</text>
<text x="321.8" y="250.48" font-size="8.5" font-weight="bold" stroke="#000" stroke-width="0.2" text-anchor="end">4</text>
<text x="317.4" y="395.7" font-size="8.5" font-weight="bold" stroke="#000" stroke-width="0.2">−1.0</text>
<text x="354" y="395.7" font-size="8.5" font-weight="bold" stroke="#000" stroke-width="0.2">−0.5</text>
<text x="395.7" y="395.7" font-size="8.5" font-weight="bold" stroke="#000" stroke-width="0.2">0.0</text>
<text x="433" y="395.7" font-size="8.5" font-weight="bold" stroke="#000" stroke-width="0.2">0.5</text>
<text x="470.5" y="395.7" font-size="8.5" font-weight="bold" stroke="#000" stroke-width="0.2">1.0</text>
<text x="401.65" y="413.1" font-size="12.3" text-anchor="middle">Voltage (V)</text>
<text transform="translate(312.4,311.9) rotate(-90)" font-size="12.1" text-anchor="middle">Light intensity (mW/cm<tspan font-size="8" dy="-4.5">2</tspan><tspan dy="4.5">)</tspan></text>
<text x="331.2" y="261.7" font-family="'Liberation Serif', 'Times New Roman', serif" font-size="21">@635 nm</text>
<rect x="481.3" y="243.2" width="11.7" height="140" fill="url(#cb156)" stroke="#222" stroke-width="0.8"/>
<line x1="493" y1="243.2" x2="495.5" y2="243.2" stroke="#111" stroke-width="1"/>
<text x="497.7" y="247.1" font-size="9.75" font-weight="bold" stroke="#000" stroke-width="0.2">6.4×10<tspan font-size="6.5" dy="-4.4">1</tspan></text>
<line x1="493" y1="278.2" x2="495.5" y2="278.2" stroke="#111" stroke-width="1"/>
<text x="497.7" y="282.1" font-size="9.75" font-weight="bold" stroke="#000" stroke-width="0.2">4.8×10<tspan font-size="6.5" dy="-4.4">1</tspan></text>
<line x1="493" y1="313.2" x2="495.5" y2="313.2" stroke="#111" stroke-width="1"/>
<text x="497.7" y="317.1" font-size="9.75" font-weight="bold" stroke="#000" stroke-width="0.2">3.2×10<tspan font-size="6.5" dy="-4.4">1</tspan></text>
<line x1="493" y1="348.2" x2="495.5" y2="348.2" stroke="#111" stroke-width="1"/>
<text x="497.7" y="352.1" font-size="9.75" font-weight="bold" stroke="#000" stroke-width="0.2">1.6×10<tspan font-size="6.5" dy="-4.4">1</tspan></text>
<line x1="493" y1="383.2" x2="495.5" y2="383.2" stroke="#111" stroke-width="1"/>
<text x="497.7" y="387.1" font-size="9.75" font-weight="bold" stroke="#000" stroke-width="0.2">1.0×10<tspan font-size="6.5" dy="-4.4">−5</tspan></text>
<text transform="translate(542.4,307.9) rotate(-90)" font-size="12" text-anchor="middle">Photocurrent (nA)</text>
<text x="287" y="248" font-size="12" font-weight="bold">(d)</text>
</svg>
</body></html>
